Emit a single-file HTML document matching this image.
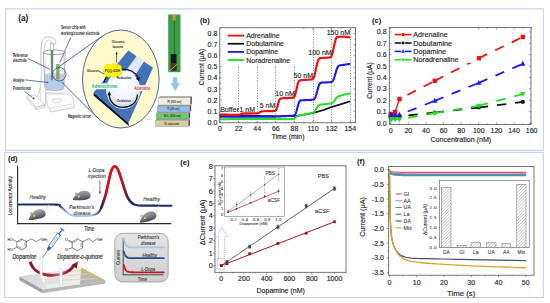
<!DOCTYPE html>
<html><head><meta charset="utf-8"><style>
html,body{margin:0;padding:0;background:#fff;width:550px;height:303px;overflow:hidden}
svg{display:block}
text{font-family:"Liberation Sans", sans-serif}
</style></head><body>
<svg width="550" height="303" viewBox="0 0 550 303"><rect x="5.6" y="8.9" width="537.8" height="141.4" fill="#fff" stroke="#c6d2e8" stroke-width="1.1" />
<rect x="4.6" y="152.4" width="538.8" height="145.1" fill="#fff" stroke="#c6d2e8" stroke-width="1.1" />
<text x="18.3" y="20.9" font-size="8.2" text-anchor="start" font-weight="bold" font-style="normal" fill="#111" font-family='"Liberation Sans", sans-serif' >(a)</text>
<path d="M40.0,88.4 L40.5,105.2 C41,106.8 43.5,107 45.5,106.6 L45.5,89.5" fill="#fcfcfc" stroke="#b6b6b6" stroke-width="0.6" />
<path d="M46.3,94.0 L69.5,94.0 C72,94 74.2,101 73.7,104.0 L49.4,108.3 C47.4,108.6 45.6,97 46.3,94.0 Z" fill="#fcfcfc" stroke="#b6b6b6" stroke-width="0.6" />
<path d="M49.4,108.3 L50.5,112.0 L74.4,107.6 L73.7,104.0" fill="#f8f8f8" stroke="#b6b6b6" stroke-width="0.6" />
<ellipse cx="55.5" cy="91.2" rx="10.8" ry="2.0" fill="#fcfcfc" stroke="#c8c8c8" stroke-width="0.6"/>
<path d="M52.6,99.4 L60.2,98.6 C61.2,98.6 61.6,101.6 60.8,102.0 L53.4,102.8 C52.4,102.8 52.0,99.6 52.6,99.4 Z" fill="none" stroke="#bdbdbd" stroke-width="0.5" />
<path d="M44.6,73.9 L63.9,73.9 L63.5,87.6 C63.3,90.4 45.6,90.4 45.3,87.6 Z" fill="#b3cfec" stroke="none" stroke-width="1" />
<ellipse cx="54.25" cy="74.1" rx="9.6" ry="1.2" fill="#cadff3"/>
<path d="M43.2,52.2 L45.0,87.8 C45.4,91.2 63.4,91.2 63.8,87.8 L65.2,52.2" fill="none" stroke="#8e8e8e" stroke-width="0.7" />
<path d="M45.0,54 L46.4,87" fill="none" stroke="#cacaca" stroke-width="0.5" />
<path d="M63.6,54 L62.4,87" fill="none" stroke="#cacaca" stroke-width="0.5" />
<ellipse cx="54.2" cy="52.3" rx="11.0" ry="2.3" fill="none" stroke="#8a8a8a" stroke-width="0.8"/>
<path d="M41.3,70 C40.6,58 40.8,47 41.9,41.9 C43.2,37.6 46,36.9 47.9,37.0 C51.5,37.2 55.2,38.2 55.7,40.8 C56.0,42.6 55.4,44.2 53.8,45.6" fill="none" stroke="#a8a8a8" stroke-width="0.7" />
<path d="M44.3,54.5 C44.0,49 44.5,45 45.5,43.1 C46.4,41.2 47.8,40.1 49.1,40.1 C50.4,40.1 51.2,41.2 51.5,43.1" fill="none" stroke="#b4b4b4" stroke-width="0.6" />
<path d="M41.3,70 C41.4,84 40.5,92 36.5,97" fill="none" stroke="#b0b0b0" stroke-width="0.6" />
<rect x="50.3" y="43.1" width="3.5" height="7.1" fill="#f6f6f6" stroke="#999999" stroke-width="0.5" />
<path d="M50.7,50.2 L53.3,50.2 L53.0,79.0 L52.0,81.0 L51.0,79.0 Z" fill="#5f8070" stroke="none" stroke-width="1" />
<line x1="52.00" y1="51.00" x2="52.00" y2="78.50" stroke="#86a596" stroke-width="0.5" />
<rect x="56.2" y="64.0" width="3.3" height="15.6" fill="#6eb64e" stroke="none" stroke-width="1" />
<rect x="56.9" y="73.9" width="1.9" height="4.9" fill="#e07a4e" stroke="none" stroke-width="1" />
<polygon points="27.10,96.90 36.00,107.20 36.00,109.60 27.10,99.40" fill="#f4f4f4" stroke="#b4b4b4" stroke-width="0.5" />
<polygon points="36.00,107.20 44.50,104.80 44.50,107.20 36.00,109.60" fill="#efefef" stroke="#b4b4b4" stroke-width="0.5" />
<path d="M27.1,96.9 Q27.2,95.6 28.6,95.4 L34.3,95.1 Q35.2,95.1 35.8,95.7 L44.5,104.8 L36.0,107.2 Z" fill="#fcfcfc" stroke="#b0b0b0" stroke-width="0.55" stroke-linejoin="round"/>
<circle cx="33.5" cy="98.4" r="0.9" fill="#2f3d7a"/>
<circle cx="59.3" cy="74.3" r="6.7" fill="none" stroke="#2f3d8c" stroke-width="0.8"/>
<line x1="58.90" y1="66.90" x2="102.20" y2="36.10" stroke="#2f3d8c" stroke-width="0.8" />
<line x1="61.60" y1="82.00" x2="97.60" y2="118.00" stroke="#2f3d8c" stroke-width="0.8" />
<line x1="28.20" y1="58.60" x2="50.30" y2="69.50" stroke="#3c4c8c" stroke-width="0.75" />
<line x1="24.80" y1="79.90" x2="47.60" y2="82.40" stroke="#3c4c8c" stroke-width="0.75" />
<circle cx="47.6" cy="82.4" r="0.7" fill="#2f3d8c"/>
<line x1="24.60" y1="91.40" x2="32.50" y2="97.70" stroke="#3c4c8c" stroke-width="0.75" />
<line x1="70.80" y1="37.30" x2="59.80" y2="62.60" stroke="#3c4c8c" stroke-width="0.75" />
<text x="61.0" y="29.1" font-size="5.0" text-anchor="start" font-weight="bold" font-style="normal" fill="#262626" font-family='"Liberation Sans", sans-serif' transform="translate(61.0 29.1) scale(0.62 1) translate(-61.0 -29.1)" >Sensor chip with</text>
<text x="61.0" y="34.6" font-size="5.0" text-anchor="start" font-weight="bold" font-style="normal" fill="#262626" font-family='"Liberation Sans", sans-serif' transform="translate(61.0 34.6) scale(0.62 1) translate(-61.0 -34.6)" >working/counter electrode</text>
<text x="12.9" y="57.2" font-size="5.0" text-anchor="start" font-weight="bold" font-style="normal" fill="#262626" font-family='"Liberation Sans", sans-serif' transform="translate(12.9 57.2) scale(0.62 1) translate(-12.9 -57.2)" >Reference</text>
<text x="12.9" y="61.8" font-size="5.0" text-anchor="start" font-weight="bold" font-style="normal" fill="#262626" font-family='"Liberation Sans", sans-serif' transform="translate(12.9 61.8) scale(0.62 1) translate(-12.9 -61.8)" >electrode</text>
<text x="12.9" y="82.2" font-size="5.0" text-anchor="start" font-weight="bold" font-style="normal" fill="#262626" font-family='"Liberation Sans", sans-serif' transform="translate(12.9 82.2) scale(0.62 1) translate(-12.9 -82.2)" >Analyte</text>
<text x="12.9" y="90.1" font-size="5.0" text-anchor="start" font-weight="bold" font-style="normal" fill="#262626" font-family='"Liberation Sans", sans-serif' transform="translate(12.9 90.1) scale(0.62 1) translate(-12.9 -90.1)" >Potentiostat</text>
<text x="67.9" y="118.2" font-size="5.0" text-anchor="start" font-weight="bold" font-style="normal" fill="#262626" font-family='"Liberation Sans", sans-serif' transform="translate(67.9 118.2) scale(0.62 1) translate(-67.9 -118.2)" >Magnetic stirrer</text>
<ellipse cx="120.8" cy="79.0" rx="38.3" ry="49.0" fill="#fcf9cd" stroke="#2f3d8c" stroke-width="0.8"/>
<clipPath id="ec"><ellipse cx="120.8" cy="79.0" rx="37.8" ry="48.5"/></clipPath>
<g clip-path="url(#ec)">
<polygon points="93.60,92.60 128.30,122.60 128.90,125.90 93.60,95.60" fill="#0b1428" stroke="none" stroke-width="1" />
<polygon points="128.30,50.50 152.90,67.80 128.50,122.80 93.60,92.60" fill="#4272b8" stroke="none" stroke-width="1" />
<polygon points="136.90,55.80 144.40,61.10 134.00,77.00 124.50,72.50" fill="#e2eaf6" stroke="none" stroke-width="1" />
<radialGradient id="ig" cx="0.5" cy="0.35" r="0.6"><stop offset="0" stop-color="#ffffff"/><stop offset="0.7" stop-color="#eef3fa"/><stop offset="1" stop-color="#c9d9ee"/></radialGradient>
<ellipse cx="123.2" cy="90.0" rx="17.2" ry="19.2" fill="url(#ig)"/>
</g>
<path d="M104.2,82.0 C106,74 113,69.5 121,69.2 C129,69 135.5,72.5 138.2,78.0" fill="none" stroke="#111" stroke-width="1.3" fill="none"/>
<polygon points="135.80,78.60 140.00,77.00 139.00,81.30" fill="#111" stroke="none" stroke-width="1" />
<path d="M137.4,94.5 C137,103 131,107.3 123,107.3 C115,107.3 109.5,102 109.2,94.5" fill="none" stroke="#111" stroke-width="1.3" fill="none"/>
<polygon points="107.40,95.20 109.30,91.20 111.20,95.20" fill="#111" stroke="none" stroke-width="1" />
<g transform="translate(112.5 70.2) scale(1.06 1.35) translate(-116 -68)"><path d="M108.5,66.5 C108,63.5 112,63.2 113.5,64.2 C115,62.6 119,62.6 120,64 C122.5,63.2 125.2,65 124.5,67.4 C126,69.2 124.5,72.2 121.5,71.8 C120,73.6 115.8,73.8 114.5,72.4 C112,73.8 108.2,72.6 108.6,70.2 C106.6,69.6 106.8,67 108.5,66.5 Z" fill="#fff200" stroke="#e8d800" stroke-width="0.3"/></g>
<text x="112.5" y="71.6" font-size="4.0" text-anchor="middle" font-weight="bold" font-style="normal" fill="#333" font-family='"Liberation Sans", sans-serif' transform="translate(112.5 71.6) scale(0.8 1) translate(-112.5 -71.6)" >PQQ-GDH</text>
<path d="M98.8,71.0 C100.5,72.6 102,73.2 104.2,73.4" fill="none" stroke="#222" stroke-width="0.7" fill="none"/>
<line x1="116.60" y1="62.50" x2="116.60" y2="53.60" stroke="#222" stroke-width="0.7" />
<polygon points="115.50,54.20 117.70,54.20 116.60,51.60" fill="#222" stroke="none" stroke-width="1" />
<text x="118.6" y="43.0" font-size="4.4" text-anchor="middle" font-weight="bold" font-style="normal" fill="#262626" font-family='"Liberation Sans", sans-serif' transform="translate(118.6 43.0) scale(0.7 1) translate(-118.6 -43.0)" >Glucono-</text>
<text x="117.9" y="48.1" font-size="4.4" text-anchor="middle" font-weight="bold" font-style="normal" fill="#262626" font-family='"Liberation Sans", sans-serif' transform="translate(117.9 48.1) scale(0.7 1) translate(-117.9 -48.1)" >lactone</text>
<text x="86.8" y="72.3" font-size="4.4" text-anchor="start" font-weight="bold" font-style="normal" fill="#262626" font-family='"Liberation Sans", sans-serif' transform="translate(86.8 72.3) scale(0.7 1) translate(-86.8 -72.3)" >Glucose</text>
<text x="124.0" y="79.4" font-size="4.4" text-anchor="middle" font-weight="bold" font-style="normal" fill="#262626" font-family='"Liberation Sans", sans-serif' transform="translate(124.0 79.4) scale(0.7 1) translate(-124.0 -79.4)" >Reduction</text>
<text x="123.7" y="102.3" font-size="4.4" text-anchor="middle" font-weight="bold" font-style="normal" fill="#262626" font-family='"Liberation Sans", sans-serif' transform="translate(123.7 102.3) scale(0.7 1) translate(-123.7 -102.3)" >Oxidation</text>
<rect x="89.6" y="83.4" width="29.0" height="5.8" fill="#ffffff" stroke="none" stroke-width="1" />
<text x="104.6" y="88.2" font-size="5.0" text-anchor="middle" font-weight="bold" font-style="normal" fill="#17a86a" font-family='"Liberation Sans", sans-serif' transform="translate(104.6 88.2) scale(0.72 1) translate(-104.6 -88.2)" >Adrenochrome</text>
<rect x="133.2" y="85.2" width="18.3" height="6.0" fill="#ffffff" stroke="none" stroke-width="1" />
<text x="142.3" y="89.8" font-size="4.8" text-anchor="middle" font-weight="bold" font-style="normal" fill="#e02424" font-family='"Liberation Sans", sans-serif' transform="translate(142.3 89.8) scale(0.65 1) translate(-142.3 -89.8)" >Adrenaline</text>
<rect x="168.2" y="14.5" width="12.3" height="57.7" fill="#3a9f44" stroke="none" stroke-width="1" />
<polygon points="172.40,14.50 175.80,14.50 175.40,20.40 172.80,20.40" fill="#e0903e" stroke="none" stroke-width="1" />
<line x1="174.40" y1="20.30" x2="174.40" y2="54.20" stroke="#1c3420" stroke-width="0.55" />
<rect x="170.7" y="54.1" width="5.8" height="16.5" fill="#18181c" stroke="none" stroke-width="1" />
<rect x="171.0" y="63.0" width="5.2" height="6.8" fill="#5a3024" stroke="none" stroke-width="1" />
<line x1="169.20" y1="71.20" x2="177.30" y2="64.00" stroke="#e8f0e8" stroke-width="0.6" />
<line x1="179.00" y1="55.50" x2="179.00" y2="56.50" stroke="#bfe0c0" stroke-width="0.5" />
<line x1="179.00" y1="57.50" x2="179.00" y2="58.50" stroke="#bfe0c0" stroke-width="0.5" />
<line x1="179.00" y1="59.50" x2="179.00" y2="60.50" stroke="#bfe0c0" stroke-width="0.5" />
<line x1="179.00" y1="61.50" x2="179.00" y2="62.50" stroke="#bfe0c0" stroke-width="0.5" />
<polygon points="172.90,77.20 177.30,77.20 177.30,83.00 179.80,83.00 175.20,91.20 170.70,83.00 172.90,83.00" fill="#8ecbea" stroke="none" stroke-width="1" />
<polygon points="159.80,96.20 191.80,96.20 190.20,97.80 158.60,97.80" fill="#9a9a9a" stroke="none" stroke-width="1" />
<polygon points="190.20,97.80 191.80,96.20 191.80,103.80 190.20,105.20" fill="#4a4a4a" stroke="none" stroke-width="1" />
<rect x="158.6" y="97.8" width="31.599999999999994" height="7.400000000000006" fill="#efeedd" stroke="#777" stroke-width="0.3" />
<text x="174.39999999999998" y="102.6" font-size="2.9" text-anchor="middle" font-weight="bold" font-style="normal" fill="#333" font-family='"Liberation Sans", sans-serif' transform="translate(174.39999999999998 102.6) scale(0.9 1) translate(-174.39999999999998 -102.6)" >Pt (200 nm)</text>
<polygon points="158.50,104.80 191.20,104.80 189.60,106.40 157.30,106.40" fill="#9a9a9a" stroke="none" stroke-width="1" />
<polygon points="189.60,106.40 191.20,104.80 191.20,110.50 189.60,111.90" fill="#4a4a4a" stroke="none" stroke-width="1" />
<rect x="157.3" y="106.4" width="32.29999999999998" height="5.5" fill="#8fc0f0" stroke="#777" stroke-width="0.3" />
<text x="173.45" y="110.25" font-size="2.9" text-anchor="middle" font-weight="bold" font-style="normal" fill="#333" font-family='"Liberation Sans", sans-serif' transform="translate(173.45 110.25) scale(0.9 1) translate(-173.45 -110.25)" >Ti (20 nm)</text>
<polygon points="157.50,111.90 190.10,111.90 188.50,113.50 156.30,113.50" fill="#9a9a9a" stroke="none" stroke-width="1" />
<polygon points="188.50,113.50 190.10,111.90 190.10,117.50 188.50,118.90" fill="#4a4a4a" stroke="none" stroke-width="1" />
<rect x="156.3" y="113.5" width="32.19999999999999" height="5.400000000000006" fill="#5fd15f" stroke="#777" stroke-width="0.3" />
<text x="172.4" y="117.3" font-size="2.9" text-anchor="middle" font-weight="bold" font-style="normal" fill="#333" font-family='"Liberation Sans", sans-serif' transform="translate(172.4 117.3) scale(0.9 1) translate(-172.4 -117.3)" >SiO₂ (500 nm)</text>
<polygon points="156.50,118.80 189.90,118.80 188.30,120.40 155.30,120.40" fill="#9a9a9a" stroke="none" stroke-width="1" />
<polygon points="188.30,120.40 189.90,118.80 189.90,125.40 188.30,126.80" fill="#4a4a4a" stroke="none" stroke-width="1" />
<rect x="155.3" y="120.4" width="33.0" height="6.3999999999999915" fill="#d6cfa2" stroke="#777" stroke-width="0.3" />
<text x="171.8" y="124.69999999999999" font-size="2.9" text-anchor="middle" font-weight="bold" font-style="normal" fill="#333" font-family='"Liberation Sans", sans-serif' transform="translate(171.8 124.69999999999999) scale(0.9 1) translate(-171.8 -124.69999999999999)" >Si substrate</text>
<text x="200.0" y="22.75" font-size="7.6" text-anchor="start" font-weight="bold" font-style="normal" fill="#111" font-family='"Liberation Sans", sans-serif' >(b)</text>
<line x1="238.50" y1="67.00" x2="238.50" y2="122.80" stroke="#666" stroke-width="0.8" stroke-dasharray="1 1.6"/>
<line x1="257.50" y1="67.00" x2="257.50" y2="122.80" stroke="#666" stroke-width="0.8" stroke-dasharray="1 1.6"/>
<line x1="275.50" y1="67.00" x2="275.50" y2="122.80" stroke="#666" stroke-width="0.8" stroke-dasharray="1 1.6"/>
<line x1="294.50" y1="67.00" x2="294.50" y2="122.80" stroke="#666" stroke-width="0.8" stroke-dasharray="1 1.6"/>
<line x1="313.50" y1="28.70" x2="313.50" y2="122.80" stroke="#666" stroke-width="0.8" stroke-dasharray="1 1.6"/>
<line x1="331.50" y1="28.70" x2="331.50" y2="122.80" stroke="#666" stroke-width="0.8" stroke-dasharray="1 1.6"/>
<line x1="350.50" y1="28.70" x2="350.50" y2="122.80" stroke="#666" stroke-width="0.8" stroke-dasharray="1 1.6"/>
<line x1="219.80" y1="122.30" x2="221.80" y2="122.30" stroke="#555" stroke-width="0.6" />
<line x1="355.50" y1="122.30" x2="353.50" y2="122.30" stroke="#555" stroke-width="0.6" />
<line x1="219.80" y1="116.75" x2="221.00" y2="116.75" stroke="#555" stroke-width="0.6" />
<line x1="355.50" y1="116.75" x2="354.30" y2="116.75" stroke="#555" stroke-width="0.6" />
<line x1="219.80" y1="111.21" x2="221.80" y2="111.21" stroke="#555" stroke-width="0.6" />
<line x1="355.50" y1="111.21" x2="353.50" y2="111.21" stroke="#555" stroke-width="0.6" />
<line x1="219.80" y1="105.66" x2="221.00" y2="105.66" stroke="#555" stroke-width="0.6" />
<line x1="355.50" y1="105.66" x2="354.30" y2="105.66" stroke="#555" stroke-width="0.6" />
<line x1="219.80" y1="100.12" x2="221.80" y2="100.12" stroke="#555" stroke-width="0.6" />
<line x1="355.50" y1="100.12" x2="353.50" y2="100.12" stroke="#555" stroke-width="0.6" />
<line x1="219.80" y1="94.57" x2="221.00" y2="94.57" stroke="#555" stroke-width="0.6" />
<line x1="355.50" y1="94.57" x2="354.30" y2="94.57" stroke="#555" stroke-width="0.6" />
<line x1="219.80" y1="89.03" x2="221.80" y2="89.03" stroke="#555" stroke-width="0.6" />
<line x1="355.50" y1="89.03" x2="353.50" y2="89.03" stroke="#555" stroke-width="0.6" />
<line x1="219.80" y1="83.48" x2="221.00" y2="83.48" stroke="#555" stroke-width="0.6" />
<line x1="355.50" y1="83.48" x2="354.30" y2="83.48" stroke="#555" stroke-width="0.6" />
<line x1="219.80" y1="77.94" x2="221.80" y2="77.94" stroke="#555" stroke-width="0.6" />
<line x1="355.50" y1="77.94" x2="353.50" y2="77.94" stroke="#555" stroke-width="0.6" />
<line x1="219.80" y1="72.39" x2="221.00" y2="72.39" stroke="#555" stroke-width="0.6" />
<line x1="355.50" y1="72.39" x2="354.30" y2="72.39" stroke="#555" stroke-width="0.6" />
<line x1="219.80" y1="66.85" x2="221.80" y2="66.85" stroke="#555" stroke-width="0.6" />
<line x1="355.50" y1="66.85" x2="353.50" y2="66.85" stroke="#555" stroke-width="0.6" />
<line x1="219.80" y1="61.30" x2="221.00" y2="61.30" stroke="#555" stroke-width="0.6" />
<line x1="355.50" y1="61.30" x2="354.30" y2="61.30" stroke="#555" stroke-width="0.6" />
<line x1="219.80" y1="55.76" x2="221.80" y2="55.76" stroke="#555" stroke-width="0.6" />
<line x1="355.50" y1="55.76" x2="353.50" y2="55.76" stroke="#555" stroke-width="0.6" />
<line x1="219.80" y1="50.21" x2="221.00" y2="50.21" stroke="#555" stroke-width="0.6" />
<line x1="355.50" y1="50.21" x2="354.30" y2="50.21" stroke="#555" stroke-width="0.6" />
<line x1="219.80" y1="44.67" x2="221.80" y2="44.67" stroke="#555" stroke-width="0.6" />
<line x1="355.50" y1="44.67" x2="353.50" y2="44.67" stroke="#555" stroke-width="0.6" />
<line x1="219.80" y1="39.12" x2="221.00" y2="39.12" stroke="#555" stroke-width="0.6" />
<line x1="355.50" y1="39.12" x2="354.30" y2="39.12" stroke="#555" stroke-width="0.6" />
<line x1="219.80" y1="33.58" x2="221.80" y2="33.58" stroke="#555" stroke-width="0.6" />
<line x1="355.50" y1="33.58" x2="353.50" y2="33.58" stroke="#555" stroke-width="0.6" />
<line x1="219.80" y1="28.03" x2="221.00" y2="28.03" stroke="#555" stroke-width="0.6" />
<line x1="355.50" y1="28.03" x2="354.30" y2="28.03" stroke="#555" stroke-width="0.6" />
<line x1="220.00" y1="122.80" x2="220.00" y2="120.80" stroke="#555" stroke-width="0.6" />
<line x1="220.00" y1="27.70" x2="220.00" y2="29.70" stroke="#555" stroke-width="0.6" />
<line x1="229.31" y1="122.80" x2="229.31" y2="121.60" stroke="#555" stroke-width="0.6" />
<line x1="229.31" y1="27.70" x2="229.31" y2="28.90" stroke="#555" stroke-width="0.6" />
<line x1="238.61" y1="122.80" x2="238.61" y2="120.80" stroke="#555" stroke-width="0.6" />
<line x1="238.61" y1="27.70" x2="238.61" y2="29.70" stroke="#555" stroke-width="0.6" />
<line x1="247.92" y1="122.80" x2="247.92" y2="121.60" stroke="#555" stroke-width="0.6" />
<line x1="247.92" y1="27.70" x2="247.92" y2="28.90" stroke="#555" stroke-width="0.6" />
<line x1="257.22" y1="122.80" x2="257.22" y2="120.80" stroke="#555" stroke-width="0.6" />
<line x1="257.22" y1="27.70" x2="257.22" y2="29.70" stroke="#555" stroke-width="0.6" />
<line x1="266.53" y1="122.80" x2="266.53" y2="121.60" stroke="#555" stroke-width="0.6" />
<line x1="266.53" y1="27.70" x2="266.53" y2="28.90" stroke="#555" stroke-width="0.6" />
<line x1="275.84" y1="122.80" x2="275.84" y2="120.80" stroke="#555" stroke-width="0.6" />
<line x1="275.84" y1="27.70" x2="275.84" y2="29.70" stroke="#555" stroke-width="0.6" />
<line x1="285.14" y1="122.80" x2="285.14" y2="121.60" stroke="#555" stroke-width="0.6" />
<line x1="285.14" y1="27.70" x2="285.14" y2="28.90" stroke="#555" stroke-width="0.6" />
<line x1="294.45" y1="122.80" x2="294.45" y2="120.80" stroke="#555" stroke-width="0.6" />
<line x1="294.45" y1="27.70" x2="294.45" y2="29.70" stroke="#555" stroke-width="0.6" />
<line x1="303.75" y1="122.80" x2="303.75" y2="121.60" stroke="#555" stroke-width="0.6" />
<line x1="303.75" y1="27.70" x2="303.75" y2="28.90" stroke="#555" stroke-width="0.6" />
<line x1="313.06" y1="122.80" x2="313.06" y2="120.80" stroke="#555" stroke-width="0.6" />
<line x1="313.06" y1="27.70" x2="313.06" y2="29.70" stroke="#555" stroke-width="0.6" />
<line x1="322.37" y1="122.80" x2="322.37" y2="121.60" stroke="#555" stroke-width="0.6" />
<line x1="322.37" y1="27.70" x2="322.37" y2="28.90" stroke="#555" stroke-width="0.6" />
<line x1="331.67" y1="122.80" x2="331.67" y2="120.80" stroke="#555" stroke-width="0.6" />
<line x1="331.67" y1="27.70" x2="331.67" y2="29.70" stroke="#555" stroke-width="0.6" />
<line x1="340.98" y1="122.80" x2="340.98" y2="121.60" stroke="#555" stroke-width="0.6" />
<line x1="340.98" y1="27.70" x2="340.98" y2="28.90" stroke="#555" stroke-width="0.6" />
<line x1="350.28" y1="122.80" x2="350.28" y2="120.80" stroke="#555" stroke-width="0.6" />
<line x1="350.28" y1="27.70" x2="350.28" y2="29.70" stroke="#555" stroke-width="0.6" />
<text x="217.3" y="124.8" font-size="7" text-anchor="end" font-weight="normal" font-style="normal" fill="#222" font-family='"Liberation Sans", sans-serif'  stroke="#222" stroke-width="0.14">0.0</text>
<text x="217.3" y="113.71" font-size="7" text-anchor="end" font-weight="normal" font-style="normal" fill="#222" font-family='"Liberation Sans", sans-serif'  stroke="#222" stroke-width="0.14">0.1</text>
<text x="217.3" y="102.61999999999999" font-size="7" text-anchor="end" font-weight="normal" font-style="normal" fill="#222" font-family='"Liberation Sans", sans-serif'  stroke="#222" stroke-width="0.14">0.2</text>
<text x="217.3" y="91.53" font-size="7" text-anchor="end" font-weight="normal" font-style="normal" fill="#222" font-family='"Liberation Sans", sans-serif'  stroke="#222" stroke-width="0.14">0.3</text>
<text x="217.3" y="80.44" font-size="7" text-anchor="end" font-weight="normal" font-style="normal" fill="#222" font-family='"Liberation Sans", sans-serif'  stroke="#222" stroke-width="0.14">0.4</text>
<text x="217.3" y="69.35" font-size="7" text-anchor="end" font-weight="normal" font-style="normal" fill="#222" font-family='"Liberation Sans", sans-serif'  stroke="#222" stroke-width="0.14">0.5</text>
<text x="217.3" y="58.25999999999999" font-size="7" text-anchor="end" font-weight="normal" font-style="normal" fill="#222" font-family='"Liberation Sans", sans-serif'  stroke="#222" stroke-width="0.14">0.6</text>
<text x="217.3" y="47.16999999999999" font-size="7" text-anchor="end" font-weight="normal" font-style="normal" fill="#222" font-family='"Liberation Sans", sans-serif'  stroke="#222" stroke-width="0.14">0.7</text>
<text x="217.3" y="36.079999999999984" font-size="7" text-anchor="end" font-weight="normal" font-style="normal" fill="#222" font-family='"Liberation Sans", sans-serif'  stroke="#222" stroke-width="0.14">0.8</text>
<text x="220.0" y="131.0" font-size="7" text-anchor="middle" font-weight="normal" font-style="normal" fill="#222" font-family='"Liberation Sans", sans-serif'  stroke="#222" stroke-width="0.14">0</text>
<text x="238.612" y="131.0" font-size="7" text-anchor="middle" font-weight="normal" font-style="normal" fill="#222" font-family='"Liberation Sans", sans-serif'  stroke="#222" stroke-width="0.14">22</text>
<text x="257.224" y="131.0" font-size="7" text-anchor="middle" font-weight="normal" font-style="normal" fill="#222" font-family='"Liberation Sans", sans-serif'  stroke="#222" stroke-width="0.14">44</text>
<text x="275.836" y="131.0" font-size="7" text-anchor="middle" font-weight="normal" font-style="normal" fill="#222" font-family='"Liberation Sans", sans-serif'  stroke="#222" stroke-width="0.14">66</text>
<text x="294.448" y="131.0" font-size="7" text-anchor="middle" font-weight="normal" font-style="normal" fill="#222" font-family='"Liberation Sans", sans-serif'  stroke="#222" stroke-width="0.14">88</text>
<text x="313.06" y="131.0" font-size="7" text-anchor="middle" font-weight="normal" font-style="normal" fill="#222" font-family='"Liberation Sans", sans-serif'  stroke="#222" stroke-width="0.14">110</text>
<text x="331.672" y="131.0" font-size="7" text-anchor="middle" font-weight="normal" font-style="normal" fill="#222" font-family='"Liberation Sans", sans-serif'  stroke="#222" stroke-width="0.14">132</text>
<text x="350.284" y="131.0" font-size="7" text-anchor="middle" font-weight="normal" font-style="normal" fill="#222" font-family='"Liberation Sans", sans-serif'  stroke="#222" stroke-width="0.14">154</text>
<text x="288" y="139" font-size="7" text-anchor="middle" font-weight="normal" font-style="normal" fill="#222" font-family='"Liberation Sans", sans-serif'  stroke="#222" stroke-width="0.14">Time (min)</text>
<text x="203.5" y="67" font-size="6.6" text-anchor="middle" font-weight="normal" font-style="normal" fill="#222" font-family='"Liberation Sans", sans-serif' transform="rotate(-90 203.5 67)"  stroke="#222" stroke-width="0.14">Current (μA)</text>
<polyline points="220.00,114.72 220.32,114.72 220.65,114.73 220.97,114.74 221.30,114.74 221.62,114.75 221.95,114.76 222.27,114.77 222.60,114.78 222.92,114.79 223.24,114.80 223.57,114.81 223.89,114.82 224.22,114.83 224.54,114.84 224.87,114.85 225.19,114.86 225.51,114.87 225.84,114.88 226.16,114.89 226.49,114.90 226.81,114.91 227.14,114.92 227.46,114.93 227.79,114.94 228.11,114.94 228.43,114.95 228.76,114.96 229.08,114.97 229.41,114.98 229.73,114.99 230.06,115.00 230.38,115.01 230.71,115.02 231.03,115.03 231.35,115.04 231.68,115.05 232.00,115.06 232.33,115.07 232.65,115.08 232.98,115.09 233.30,115.10 233.63,115.11 233.95,115.12 234.27,115.13 234.60,115.14 234.92,115.15 235.25,115.16 235.57,115.17 235.90,115.18 236.22,115.19 236.54,115.20 236.87,115.21 237.19,115.22 237.52,115.23 237.84,115.24 238.17,115.25 238.49,115.26 238.82,115.27 239.14,115.28 239.46,115.29 239.79,115.30 240.11,115.31 240.44,115.32 240.76,115.33 241.09,115.35 241.41,115.36 241.74,115.37 242.06,115.38 242.38,115.39 242.71,115.40 243.03,115.42 243.36,115.43 243.68,115.44 244.01,115.45 244.33,115.46 244.65,115.47 244.98,115.49 245.30,115.50 245.63,115.51 245.95,115.52 246.28,115.53 246.60,115.54 246.93,115.56 247.25,115.57 247.57,115.58 247.90,115.59 248.22,115.60 248.55,115.61 248.87,115.62 249.20,115.64 249.52,115.65 249.85,115.66 250.17,115.67 250.49,115.68 250.82,115.69 251.14,115.71 251.47,115.72 251.79,115.73 252.12,115.74 252.44,115.75 252.77,115.76 253.09,115.78 253.41,115.79 253.74,115.80 254.06,115.81 254.39,115.82 254.71,115.83 255.04,115.84 255.36,115.86 255.68,115.87 256.01,115.88 256.33,115.89 256.66,115.90 256.98,115.91 257.31,115.92 257.63,115.93 257.96,115.93 258.28,115.94 258.60,115.95 258.93,115.95 259.25,115.96 259.58,115.97 259.90,115.97 260.23,115.98 260.55,115.98 260.88,115.99 261.20,115.99 261.52,116.00 261.85,116.01 262.17,116.01 262.50,116.02 262.82,116.02 263.15,116.03 263.47,116.03 263.79,116.04 264.12,116.05 264.44,116.05 264.77,116.06 265.09,116.06 265.42,116.07 265.74,116.08 266.07,116.08 266.39,116.09 266.71,116.09 267.04,116.10 267.36,116.10 267.69,116.11 268.01,116.12 268.34,116.12 268.66,116.13 268.99,116.13 269.31,116.14 269.63,116.15 269.96,116.15 270.28,116.16 270.61,116.16 270.93,116.17 271.26,116.17 271.58,116.18 271.90,116.19 272.23,116.19 272.55,116.20 272.88,116.20 273.20,116.21 273.53,116.21 273.85,116.22 274.18,116.23 274.50,116.23 274.82,116.24 275.15,116.24 275.47,116.24 275.80,116.25 276.12,116.25 276.45,116.25 276.77,116.25 277.10,116.25 277.42,116.25 277.74,116.24 278.07,116.24 278.39,116.24 278.72,116.24 279.04,116.24 279.37,116.23 279.69,116.23 280.02,116.23 280.34,116.23 280.66,116.23 280.99,116.23 281.31,116.22 281.64,116.22 281.96,116.22 282.29,116.22 282.61,116.22 282.93,116.21 283.26,116.21 283.58,116.21 283.91,116.21 284.23,116.21 284.56,116.20 284.88,116.20 285.21,116.20 285.53,116.20 285.85,116.20 286.18,116.19 286.50,116.19 286.83,116.19 287.15,116.19 287.48,116.19 287.80,116.18 288.13,116.18 288.45,116.18 288.77,116.18 289.10,116.18 289.42,116.17 289.75,116.17 290.07,116.17 290.40,116.17 290.72,116.17 291.04,116.17 291.37,116.16 291.69,116.16 292.02,116.16 292.34,116.16 292.67,116.15 292.99,116.15 293.32,116.14 293.64,116.13 293.96,116.12 294.29,116.09 294.61,116.07 294.94,116.04 295.26,116.00 295.59,115.96 295.91,115.92 296.24,115.87 296.56,115.82 296.88,115.77 297.21,115.72 297.53,115.67 297.86,115.62 298.18,115.57 298.51,115.52 298.83,115.47 299.16,115.43 299.48,115.38 299.80,115.33 300.13,115.28 300.45,115.23 300.78,115.18 301.10,115.13 301.43,115.08 301.75,115.03 302.07,114.98 302.40,114.93 302.72,114.88 303.05,114.83 303.37,114.78 303.70,114.73 304.02,114.67 304.35,114.62 304.67,114.56 304.99,114.50 305.32,114.44 305.64,114.38 305.97,114.32 306.29,114.26 306.62,114.20 306.94,114.13 307.27,114.07 307.59,114.00 307.91,113.94 308.24,113.88 308.56,113.81 308.89,113.75 309.21,113.69 309.54,113.62 309.86,113.56 310.18,113.49 310.51,113.43 310.83,113.37 311.16,113.30 311.48,113.24 311.81,113.17 312.13,113.10 312.46,113.03 312.78,112.96 313.10,112.89 313.43,112.81 313.75,112.73 314.08,112.64 314.40,112.56 314.73,112.47 315.05,112.38 315.38,112.29 315.70,112.21 316.02,112.12 316.35,112.03 316.67,111.94 317.00,111.85 317.32,111.76 317.65,111.67 317.97,111.58 318.30,111.49 318.62,111.41 318.94,111.32 319.27,111.23 319.59,111.14 319.92,111.05 320.24,110.96 320.57,110.87 320.89,110.78 321.21,110.69 321.54,110.59 321.86,110.50 322.19,110.40 322.51,110.29 322.84,110.19 323.16,110.08 323.49,109.96 323.81,109.85 324.13,109.73 324.46,109.62 324.78,109.50 325.11,109.38 325.43,109.26 325.76,109.15 326.08,109.03 326.41,108.91 326.73,108.79 327.05,108.67 327.38,108.56 327.70,108.44 328.03,108.32 328.35,108.20 328.68,108.08 329.00,107.97 329.32,107.85 329.65,107.73 329.97,107.61 330.30,107.50 330.62,107.38 330.95,107.27 331.27,107.16 331.60,107.05 331.92,106.94 332.24,106.84 332.57,106.74 332.89,106.64 333.22,106.54 333.54,106.44 333.87,106.34 334.19,106.25 334.52,106.15 334.84,106.05 335.16,105.96 335.49,105.86 335.81,105.76 336.14,105.67 336.46,105.57 336.79,105.47 337.11,105.38 337.43,105.28 337.76,105.18 338.08,105.09 338.41,104.99 338.73,104.89 339.06,104.80 339.38,104.70 339.71,104.60 340.03,104.50 340.35,104.40 340.68,104.31 341.00,104.21 341.33,104.10 341.65,104.00 341.98,103.90 342.30,103.80 342.63,103.69 342.95,103.59 343.27,103.48 343.60,103.38 343.92,103.28 344.25,103.17 344.57,103.07 344.90,102.96 345.22,102.86 345.55,102.75 345.87,102.65 346.19,102.55 346.52,102.44 346.84,102.34 347.17,102.23 347.49,102.13 347.82,102.02 348.14,101.92 348.46,101.82 348.79,101.72 349.11,101.63 349.44,101.54" fill="none" stroke="#111" stroke-width="1.7" stroke-linejoin="round" stroke-linecap="round" />
<polyline points="220.00,119.14 220.32,119.14 220.65,119.14 220.97,119.14 221.30,119.14 221.62,119.14 221.95,119.14 222.27,119.14 222.60,119.14 222.92,119.13 223.24,119.13 223.57,119.13 223.89,119.13 224.22,119.13 224.54,119.13 224.87,119.13 225.19,119.13 225.51,119.13 225.84,119.13 226.16,119.13 226.49,119.13 226.81,119.13 227.14,119.13 227.46,119.13 227.79,119.13 228.11,119.13 228.43,119.13 228.76,119.13 229.08,119.13 229.41,119.13 229.73,119.12 230.06,119.12 230.38,119.12 230.71,119.12 231.03,119.12 231.35,119.12 231.68,119.12 232.00,119.12 232.33,119.12 232.65,119.12 232.98,119.12 233.30,119.12 233.63,119.12 233.95,119.12 234.27,119.12 234.60,119.12 234.92,119.12 235.25,119.12 235.57,119.12 235.90,119.12 236.22,119.12 236.54,119.11 236.87,119.11 237.19,119.11 237.52,119.11 237.84,119.11 238.17,119.11 238.49,119.11 238.82,119.11 239.14,119.11 239.46,119.11 239.79,119.11 240.11,119.11 240.44,119.11 240.76,119.11 241.09,119.11 241.41,119.11 241.74,119.11 242.06,119.11 242.38,119.11 242.71,119.11 243.03,119.11 243.36,119.10 243.68,119.10 244.01,119.10 244.33,119.10 244.65,119.10 244.98,119.10 245.30,119.10 245.63,119.10 245.95,119.10 246.28,119.10 246.60,119.10 246.93,119.10 247.25,119.10 247.57,119.10 247.90,119.10 248.22,119.10 248.55,119.10 248.87,119.10 249.20,119.10 249.52,119.10 249.85,119.09 250.17,119.09 250.49,119.09 250.82,119.09 251.14,119.09 251.47,119.09 251.79,119.09 252.12,119.09 252.44,119.09 252.77,119.09 253.09,119.09 253.41,119.09 253.74,119.09 254.06,119.09 254.39,119.09 254.71,119.09 255.04,119.09 255.36,119.09 255.68,119.09 256.01,119.09 256.33,119.09 256.66,119.08 256.98,119.08 257.31,119.08 257.63,119.08 257.96,119.08 258.28,119.08 258.60,119.08 258.93,119.08 259.25,119.08 259.58,119.08 259.90,119.08 260.23,119.08 260.55,119.08 260.88,119.08 261.20,119.08 261.52,119.08 261.85,119.08 262.17,119.08 262.50,119.08 262.82,119.08 263.15,119.08 263.47,119.07 263.79,119.07 264.12,119.07 264.44,119.07 264.77,119.07 265.09,119.07 265.42,119.07 265.74,119.07 266.07,119.07 266.39,119.07 266.71,119.07 267.04,119.07 267.36,119.07 267.69,119.07 268.01,119.07 268.34,119.07 268.66,119.07 268.99,119.07 269.31,119.07 269.63,119.07 269.96,119.06 270.28,119.06 270.61,119.06 270.93,119.06 271.26,119.06 271.58,119.06 271.90,119.06 272.23,119.06 272.55,119.06 272.88,119.06 273.20,119.06 273.53,119.06 273.85,119.06 274.18,119.06 274.50,119.06 274.82,119.06 275.15,119.06 275.47,119.06 275.80,119.06 276.12,119.06 276.45,119.06 276.77,119.05 277.10,119.05 277.42,119.05 277.74,119.05 278.07,119.05 278.39,119.05 278.72,119.05 279.04,119.05 279.37,119.05 279.69,119.05 280.02,119.05 280.34,119.05 280.66,119.05 280.99,119.05 281.31,119.05 281.64,119.05 281.96,119.05 282.29,119.05 282.61,119.05 282.93,119.05 283.26,119.05 283.58,119.04 283.91,119.04 284.23,119.04 284.56,119.04 284.88,119.04 285.21,119.04 285.53,119.04 285.85,119.04 286.18,119.04 286.50,119.04 286.83,119.04 287.15,119.04 287.48,119.04 287.80,119.04 288.13,119.04 288.45,119.04 288.77,119.04 289.10,119.04 289.42,119.04 289.75,119.04 290.07,119.03 290.40,119.03 290.72,119.03 291.04,119.03 291.37,119.03 291.69,119.03 292.02,119.03 292.34,119.02 292.67,119.00 292.99,118.96 293.32,118.91 293.64,118.81 293.96,118.67 294.29,118.48 294.61,118.24 294.94,117.96 295.26,117.65 295.59,117.33 295.91,117.02 296.24,116.74 296.56,116.50 296.88,116.31 297.21,116.15 297.53,116.03 297.86,115.93 298.18,115.84 298.51,115.77 298.83,115.69 299.16,115.62 299.48,115.56 299.80,115.49 300.13,115.42 300.45,115.35 300.78,115.28 301.10,115.22 301.43,115.15 301.75,115.08 302.07,115.01 302.40,114.94 302.72,114.88 303.05,114.81 303.37,114.74 303.70,114.67 304.02,114.60 304.35,114.53 304.67,114.47 304.99,114.40 305.32,114.33 305.64,114.26 305.97,114.19 306.29,114.13 306.62,114.06 306.94,113.99 307.27,113.92 307.59,113.85 307.91,113.79 308.24,113.72 308.56,113.65 308.89,113.58 309.21,113.51 309.54,113.45 309.86,113.38 310.18,113.31 310.51,113.24 310.83,113.17 311.16,113.10 311.48,113.03 311.81,112.95 312.13,112.86 312.46,112.77 312.78,112.66 313.10,112.52 313.43,112.36 313.75,112.16 314.08,111.92 314.40,111.63 314.73,111.28 315.05,110.88 315.38,110.43 315.70,109.93 316.02,109.39 316.35,108.84 316.67,108.27 317.00,107.72 317.32,107.17 317.65,106.66 317.97,106.20 318.30,105.80 318.62,105.46 318.94,105.19 319.27,104.98 319.59,104.83 319.92,104.73 320.24,104.65 320.57,104.59 320.89,104.55 321.21,104.51 321.54,104.48 321.86,104.44 322.19,104.41 322.51,104.38 322.84,104.34 323.16,104.31 323.49,104.28 323.81,104.24 324.13,104.21 324.46,104.18 324.78,104.15 325.11,104.11 325.43,104.08 325.76,104.05 326.08,104.01 326.41,103.98 326.73,103.95 327.05,103.92 327.38,103.88 327.70,103.85 328.03,103.82 328.35,103.78 328.68,103.75 329.00,103.72 329.32,103.68 329.65,103.65 329.97,103.61 330.30,103.56 330.62,103.50 330.95,103.43 331.27,103.34 331.60,103.22 331.92,103.08 332.24,102.90 332.57,102.68 332.89,102.41 333.22,102.11 333.54,101.77 333.87,101.39 334.19,100.97 334.52,100.53 334.84,100.08 335.16,99.61 335.49,99.14 335.81,98.69 336.14,98.25 336.46,97.84 336.79,97.48 337.11,97.15 337.43,96.88 337.76,96.66 338.08,96.47 338.41,96.33 338.73,96.20 339.06,96.10 339.38,96.00 339.71,95.91 340.03,95.82 340.35,95.74 340.68,95.65 341.00,95.57 341.33,95.48 341.65,95.40 341.98,95.31 342.30,95.23 342.63,95.14 342.95,95.06 343.27,94.97 343.60,94.89 343.92,94.80 344.25,94.72 344.57,94.63 344.90,94.55 345.22,94.46 345.55,94.38 345.87,94.29 346.19,94.21 346.52,94.12 346.84,94.04 347.17,93.95 347.49,93.87 347.82,93.78 348.14,93.70 348.46,93.62 348.79,93.54 349.11,93.46 349.44,93.39" fill="none" stroke="#22dd22" stroke-width="2.0" stroke-linejoin="round" stroke-linecap="round" />
<polyline points="220.00,116.59 220.32,116.59 220.65,116.59 220.97,116.59 221.30,116.59 221.62,116.59 221.95,116.59 222.27,116.60 222.60,116.60 222.92,116.60 223.24,116.60 223.57,116.60 223.89,116.60 224.22,116.60 224.54,116.60 224.87,116.60 225.19,116.60 225.51,116.61 225.84,116.61 226.16,116.61 226.49,116.61 226.81,116.61 227.14,116.61 227.46,116.61 227.79,116.61 228.11,116.61 228.43,116.61 228.76,116.61 229.08,116.62 229.41,116.62 229.73,116.62 230.06,116.62 230.38,116.62 230.71,116.62 231.03,116.62 231.35,116.62 231.68,116.62 232.00,116.62 232.33,116.63 232.65,116.63 232.98,116.63 233.30,116.63 233.63,116.63 233.95,116.63 234.27,116.63 234.60,116.63 234.92,116.63 235.25,116.63 235.57,116.64 235.90,116.64 236.22,116.64 236.54,116.64 236.87,116.64 237.19,116.64 237.52,116.64 237.84,116.64 238.17,116.64 238.49,116.64 238.82,116.64 239.14,116.65 239.46,116.65 239.79,116.65 240.11,116.65 240.44,116.65 240.76,116.65 241.09,116.65 241.41,116.65 241.74,116.65 242.06,116.65 242.38,116.66 242.71,116.66 243.03,116.66 243.36,116.66 243.68,116.66 244.01,116.66 244.33,116.66 244.65,116.66 244.98,116.66 245.30,116.66 245.63,116.67 245.95,116.67 246.28,116.67 246.60,116.67 246.93,116.67 247.25,116.67 247.57,116.67 247.90,116.67 248.22,116.67 248.55,116.67 248.87,116.67 249.20,116.68 249.52,116.68 249.85,116.68 250.17,116.68 250.49,116.68 250.82,116.68 251.14,116.68 251.47,116.68 251.79,116.68 252.12,116.68 252.44,116.69 252.77,116.69 253.09,116.69 253.41,116.69 253.74,116.69 254.06,116.69 254.39,116.69 254.71,116.69 255.04,116.69 255.36,116.69 255.68,116.69 256.01,116.70 256.33,116.70 256.66,116.70 256.98,116.70 257.31,116.70 257.63,116.69 257.96,116.69 258.28,116.69 258.60,116.69 258.93,116.69 259.25,116.69 259.58,116.69 259.90,116.68 260.23,116.68 260.55,116.68 260.88,116.68 261.20,116.68 261.52,116.67 261.85,116.67 262.17,116.67 262.50,116.67 262.82,116.67 263.15,116.66 263.47,116.66 263.79,116.66 264.12,116.66 264.44,116.66 264.77,116.65 265.09,116.65 265.42,116.65 265.74,116.65 266.07,116.65 266.39,116.64 266.71,116.64 267.04,116.64 267.36,116.64 267.69,116.64 268.01,116.64 268.34,116.63 268.66,116.63 268.99,116.63 269.31,116.63 269.63,116.63 269.96,116.62 270.28,116.62 270.61,116.62 270.93,116.62 271.26,116.62 271.58,116.61 271.90,116.61 272.23,116.61 272.55,116.61 272.88,116.61 273.20,116.60 273.53,116.60 273.85,116.60 274.18,116.60 274.50,116.59 274.82,116.59 275.15,116.58 275.47,116.58 275.80,116.57 276.12,116.56 276.45,116.55 276.77,116.53 277.10,116.52 277.42,116.50 277.74,116.49 278.07,116.47 278.39,116.45 278.72,116.43 279.04,116.42 279.37,116.40 279.69,116.38 280.02,116.36 280.34,116.35 280.66,116.33 280.99,116.31 281.31,116.29 281.64,116.28 281.96,116.26 282.29,116.24 282.61,116.23 282.93,116.21 283.26,116.19 283.58,116.17 283.91,116.16 284.23,116.14 284.56,116.12 284.88,116.10 285.21,116.09 285.53,116.07 285.85,116.05 286.18,116.03 286.50,116.02 286.83,116.00 287.15,115.98 287.48,115.96 287.80,115.95 288.13,115.93 288.45,115.91 288.77,115.89 289.10,115.88 289.42,115.86 289.75,115.84 290.07,115.83 290.40,115.81 290.72,115.79 291.04,115.77 291.37,115.76 291.69,115.74 292.02,115.72 292.34,115.70 292.67,115.68 292.99,115.65 293.32,115.61 293.64,115.55 293.96,115.46 294.29,115.32 294.61,115.11 294.94,114.78 295.26,114.33 295.59,113.72 295.91,112.95 296.24,112.02 296.56,110.95 296.88,109.78 297.21,108.54 297.53,107.27 297.86,106.02 298.18,104.84 298.51,103.76 298.83,102.82 299.16,102.05 299.48,101.45 299.80,101.01 300.13,100.70 300.45,100.51 300.78,100.39 301.10,100.32 301.43,100.27 301.75,100.25 302.07,100.23 302.40,100.22 302.72,100.20 303.05,100.19 303.37,100.18 303.70,100.16 304.02,100.15 304.35,100.14 304.67,100.13 304.99,100.11 305.32,100.10 305.64,100.09 305.97,100.08 306.29,100.06 306.62,100.05 306.94,100.04 307.27,100.03 307.59,100.01 307.91,100.00 308.24,99.99 308.56,99.98 308.89,99.96 309.21,99.95 309.54,99.94 309.86,99.93 310.18,99.91 310.51,99.90 310.83,99.89 311.16,99.87 311.48,99.86 311.81,99.84 312.13,99.82 312.46,99.78 312.78,99.73 313.10,99.66 313.43,99.55 313.75,99.39 314.08,99.16 314.40,98.83 314.73,98.39 315.05,97.82 315.38,97.12 315.70,96.27 316.02,95.31 316.35,94.25 316.67,93.12 317.00,91.94 317.32,90.75 317.65,89.56 317.97,88.39 318.30,87.29 318.62,86.27 318.94,85.37 319.27,84.60 319.59,83.97 319.92,83.50 320.24,83.16 320.57,82.93 320.89,82.79 321.21,82.70 321.54,82.64 321.86,82.61 322.19,82.59 322.51,82.57 322.84,82.55 323.16,82.54 323.49,82.52 323.81,82.51 324.13,82.49 324.46,82.48 324.78,82.47 325.11,82.45 325.43,82.44 325.76,82.42 326.08,82.41 326.41,82.39 326.73,82.38 327.05,82.36 327.38,82.35 327.70,82.33 328.03,82.32 328.35,82.30 328.68,82.29 329.00,82.27 329.32,82.26 329.65,82.24 329.97,82.22 330.30,82.19 330.62,82.15 330.95,82.10 331.27,82.02 331.60,81.91 331.92,81.74 332.24,81.51 332.57,81.19 332.89,80.77 333.22,80.22 333.54,79.54 333.87,78.74 334.19,77.82 334.52,76.81 334.84,75.73 335.16,74.61 335.49,73.47 335.81,72.34 336.14,71.23 336.46,70.17 336.79,69.18 337.11,68.30 337.43,67.55 337.76,66.93 338.08,66.45 338.41,66.09 338.73,65.84 339.06,65.66 339.38,65.54 339.71,65.46 340.03,65.39 340.35,65.34 340.68,65.28 341.00,65.23 341.33,65.19 341.65,65.14 341.98,65.09 342.30,65.04 342.63,64.99 342.95,64.95 343.27,64.90 343.60,64.85 343.92,64.80 344.25,64.75 344.57,64.70 344.90,64.66 345.22,64.61 345.55,64.56 345.87,64.51 346.19,64.46 346.52,64.42 346.84,64.37 347.17,64.32 347.49,64.27 347.82,64.22 348.14,64.18 348.46,64.13 348.79,64.08 349.11,64.04 349.44,64.00" fill="none" stroke="#1a1aee" stroke-width="2.1" stroke-linejoin="round" stroke-linecap="round" />
<polyline points="220.00,114.49 220.32,114.50 220.65,114.51 220.97,114.51 221.30,114.52 221.62,114.53 221.95,114.54 222.27,114.55 222.60,114.56 222.92,114.56 223.24,114.57 223.57,114.58 223.89,114.59 224.22,114.60 224.54,114.61 224.87,114.62 225.19,114.63 225.51,114.64 225.84,114.65 226.16,114.66 226.49,114.67 226.81,114.68 227.14,114.68 227.46,114.69 227.79,114.70 228.11,114.71 228.43,114.72 228.76,114.73 229.08,114.74 229.41,114.75 229.73,114.76 230.06,114.77 230.38,114.78 230.71,114.79 231.03,114.80 231.35,114.81 231.68,114.81 232.00,114.82 232.33,114.83 232.65,114.84 232.98,114.85 233.30,114.86 233.63,114.87 233.95,114.88 234.27,114.89 234.60,114.90 234.92,114.91 235.25,114.92 235.57,114.93 235.90,114.93 236.22,114.94 236.54,114.95 236.87,114.96 237.19,114.97 237.52,114.97 237.84,114.97 238.17,114.96 238.49,114.93 238.82,114.88 239.14,114.81 239.46,114.72 239.79,114.60 240.11,114.45 240.44,114.30 240.76,114.13 241.09,113.98 241.41,113.84 241.74,113.73 242.06,113.64 242.38,113.58 242.71,113.53 243.03,113.50 243.36,113.49 243.68,113.48 244.01,113.47 244.33,113.47 244.65,113.46 244.98,113.46 245.30,113.46 245.63,113.46 245.95,113.45 246.28,113.45 246.60,113.45 246.93,113.45 247.25,113.45 247.57,113.44 247.90,113.44 248.22,113.44 248.55,113.44 248.87,113.44 249.20,113.43 249.52,113.43 249.85,113.43 250.17,113.43 250.49,113.42 250.82,113.42 251.14,113.42 251.47,113.42 251.79,113.42 252.12,113.41 252.44,113.41 252.77,113.41 253.09,113.41 253.41,113.41 253.74,113.40 254.06,113.40 254.39,113.40 254.71,113.40 255.04,113.40 255.36,113.39 255.68,113.39 256.01,113.39 256.33,113.38 256.66,113.37 256.98,113.35 257.31,113.32 257.63,113.28 257.96,113.21 258.28,113.11 258.60,112.98 258.93,112.82 259.25,112.64 259.58,112.44 259.90,112.23 260.23,112.03 260.55,111.84 260.88,111.68 261.20,111.54 261.52,111.44 261.85,111.36 262.17,111.31 262.50,111.28 262.82,111.26 263.15,111.24 263.47,111.23 263.79,111.23 264.12,111.22 264.44,111.22 264.77,111.21 265.09,111.21 265.42,111.20 265.74,111.20 266.07,111.19 266.39,111.19 266.71,111.18 267.04,111.18 267.36,111.17 267.69,111.17 268.01,111.17 268.34,111.16 268.66,111.16 268.99,111.15 269.31,111.15 269.63,111.14 269.96,111.14 270.28,111.13 270.61,111.13 270.93,111.12 271.26,111.12 271.58,111.11 271.90,111.11 272.23,111.11 272.55,111.10 272.88,111.10 273.20,111.09 273.53,111.08 273.85,111.07 274.18,111.05 274.50,111.02 274.82,110.95 275.15,110.84 275.47,110.64 275.80,110.33 276.12,109.87 276.45,109.24 276.77,108.44 277.10,107.48 277.42,106.38 277.74,105.20 278.07,104.00 278.39,102.83 278.72,101.76 279.04,100.83 279.37,100.07 279.69,99.48 280.02,99.05 280.34,98.76 280.66,98.58 280.99,98.46 281.31,98.40 281.64,98.35 281.96,98.33 282.29,98.31 282.61,98.29 282.93,98.27 283.26,98.26 283.58,98.24 283.91,98.22 284.23,98.21 284.56,98.19 284.88,98.18 285.21,98.16 285.53,98.14 285.85,98.13 286.18,98.11 286.50,98.10 286.83,98.08 287.15,98.06 287.48,98.05 287.80,98.03 288.13,98.01 288.45,98.00 288.77,97.98 289.10,97.97 289.42,97.95 289.75,97.93 290.07,97.92 290.40,97.90 290.72,97.89 291.04,97.87 291.37,97.85 291.69,97.84 292.02,97.82 292.34,97.79 292.67,97.75 292.99,97.69 293.32,97.59 293.64,97.42 293.96,97.14 294.29,96.73 294.61,96.15 294.94,95.37 295.26,94.39 295.59,93.24 295.91,91.93 296.24,90.51 296.56,89.04 296.88,87.57 297.21,86.16 297.53,84.85 297.86,83.68 298.18,82.70 298.51,81.92 298.83,81.32 299.16,80.90 299.48,80.62 299.80,80.44 300.13,80.33 300.45,80.26 300.78,80.22 301.10,80.18 301.43,80.16 301.75,80.13 302.07,80.11 302.40,80.09 302.72,80.06 303.05,80.04 303.37,80.02 303.70,79.99 304.02,79.97 304.35,79.95 304.67,79.93 304.99,79.90 305.32,79.88 305.64,79.86 305.97,79.83 306.29,79.81 306.62,79.79 306.94,79.76 307.27,79.74 307.59,79.72 307.91,79.70 308.24,79.67 308.56,79.65 308.89,79.63 309.21,79.60 309.54,79.58 309.86,79.56 310.18,79.53 310.51,79.51 310.83,79.49 311.16,79.46 311.48,79.42 311.81,79.37 312.13,79.30 312.46,79.17 312.78,78.97 313.10,78.66 313.43,78.20 313.75,77.57 314.08,76.75 314.40,75.74 314.73,74.56 315.05,73.23 315.38,71.80 315.70,70.31 316.02,68.78 316.35,67.25 316.67,65.75 317.00,64.32 317.32,63.00 317.65,61.82 317.97,60.81 318.30,59.99 318.62,59.37 318.94,58.91 319.27,58.60 319.59,58.40 319.92,58.28 320.24,58.20 320.57,58.15 320.89,58.12 321.21,58.09 321.54,58.06 321.86,58.04 322.19,58.02 322.51,57.99 322.84,57.97 323.16,57.94 323.49,57.92 323.81,57.90 324.13,57.87 324.46,57.85 324.78,57.83 325.11,57.80 325.43,57.78 325.76,57.76 326.08,57.73 326.41,57.71 326.73,57.68 327.05,57.66 327.38,57.64 327.70,57.61 328.03,57.59 328.35,57.57 328.68,57.54 329.00,57.51 329.32,57.48 329.65,57.44 329.97,57.37 330.30,57.26 330.62,57.08 330.95,56.79 331.27,56.37 331.60,55.78 331.92,55.00 332.24,54.03 332.57,52.87 332.89,51.56 333.22,50.13 333.54,48.62 333.87,47.08 334.19,45.54 334.52,44.03 334.84,42.60 335.16,41.29 335.49,40.13 335.81,39.16 336.14,38.38 336.46,37.80 336.79,37.39 337.11,37.12 337.43,36.95 337.76,36.86 338.08,36.81 338.41,36.78 338.73,36.77 339.06,36.76 339.38,36.76 339.71,36.75 340.03,36.75 340.35,36.74 340.68,36.74 341.00,36.74 341.33,36.73 341.65,36.73 341.98,36.72 342.30,36.72 342.63,36.72 342.95,36.71 343.27,36.71 343.60,36.71 343.92,36.71 344.25,36.71 344.57,36.72 344.90,36.74 345.22,36.76 345.55,36.78 345.87,36.81 346.19,36.85 346.52,36.89 346.84,36.94 347.17,36.99 347.49,37.04 347.82,37.08 348.14,37.13 348.46,37.18 348.79,37.23 349.11,37.27 349.44,37.31" fill="none" stroke="#ee1111" stroke-width="2.2" stroke-linejoin="round" stroke-linecap="round" />
<rect x="220.3" y="28.1" width="82" height="36.4" fill="#fff" stroke="none" stroke-width="1" />
<line x1="227.70" y1="35.60" x2="244.00" y2="35.60" stroke="#ee1111" stroke-width="1.8" />
<text x="246.2" y="38.1" font-size="7" text-anchor="start" font-weight="normal" font-style="normal" fill="#222" font-family='"Liberation Sans", sans-serif'  stroke="#222" stroke-width="0.14">Adrenaline</text>
<line x1="227.70" y1="43.75" x2="244.00" y2="43.75" stroke="#111" stroke-width="1.8" />
<text x="246.2" y="46.25" font-size="7" text-anchor="start" font-weight="normal" font-style="normal" fill="#222" font-family='"Liberation Sans", sans-serif'  stroke="#222" stroke-width="0.14">Dobutamine</text>
<line x1="227.70" y1="51.90" x2="244.00" y2="51.90" stroke="#1a1aee" stroke-width="1.8" />
<text x="246.2" y="54.400000000000006" font-size="7" text-anchor="start" font-weight="normal" font-style="normal" fill="#222" font-family='"Liberation Sans", sans-serif'  stroke="#222" stroke-width="0.14">Dopamine</text>
<line x1="227.70" y1="60.05" x2="244.00" y2="60.05" stroke="#22dd22" stroke-width="1.8" />
<text x="246.2" y="62.550000000000004" font-size="7" text-anchor="start" font-weight="normal" font-style="normal" fill="#222" font-family='"Liberation Sans", sans-serif'  stroke="#222" stroke-width="0.14">Noradrenaline</text>
<text x="220.2" y="112.1" font-size="7" text-anchor="start" font-weight="normal" font-style="normal" fill="#222" font-family='"Liberation Sans", sans-serif'  stroke="#222" stroke-width="0.14">Buffer</text>
<text x="239.5" y="112.1" font-size="7" text-anchor="start" font-weight="normal" font-style="normal" fill="#222" font-family='"Liberation Sans", sans-serif'  stroke="#222" stroke-width="0.14">1 nM</text>
<text x="259.7" y="108" font-size="7" text-anchor="start" font-weight="normal" font-style="normal" fill="#222" font-family='"Liberation Sans", sans-serif'  stroke="#222" stroke-width="0.14">5 nM</text>
<text x="275.3" y="95.8" font-size="7" text-anchor="start" font-weight="normal" font-style="normal" fill="#222" font-family='"Liberation Sans", sans-serif'  stroke="#222" stroke-width="0.14">10 nM</text>
<text x="293.6" y="78" font-size="7" text-anchor="start" font-weight="normal" font-style="normal" fill="#222" font-family='"Liberation Sans", sans-serif'  stroke="#222" stroke-width="0.14">50 nM</text>
<text x="308.3" y="55.4" font-size="7" text-anchor="start" font-weight="normal" font-style="normal" fill="#222" font-family='"Liberation Sans", sans-serif'  stroke="#222" stroke-width="0.14">100 nM</text>
<text x="326.7" y="34.8" font-size="7" text-anchor="start" font-weight="normal" font-style="normal" fill="#222" font-family='"Liberation Sans", sans-serif'  stroke="#222" stroke-width="0.14">150 nM</text>
<rect x="219.8" y="27.7" width="135.7" height="95.1" fill="none" stroke="#555" stroke-width="0.8" />
<text x="372.0" y="22.75" font-size="7.6" text-anchor="start" font-weight="bold" font-style="normal" fill="#111" font-family='"Liberation Sans", sans-serif' >(c)</text>
<line x1="389.30" y1="123.10" x2="391.30" y2="123.10" stroke="#555" stroke-width="0.6" />
<line x1="531.00" y1="123.10" x2="529.00" y2="123.10" stroke="#555" stroke-width="0.6" />
<line x1="389.30" y1="117.41" x2="390.50" y2="117.41" stroke="#555" stroke-width="0.6" />
<line x1="531.00" y1="117.41" x2="529.80" y2="117.41" stroke="#555" stroke-width="0.6" />
<text x="386.6" y="125.6" font-size="7" text-anchor="end" font-weight="normal" font-style="normal" fill="#222" font-family='"Liberation Sans", sans-serif'  stroke="#222" stroke-width="0.14">0.0</text>
<line x1="389.30" y1="111.71" x2="391.30" y2="111.71" stroke="#555" stroke-width="0.6" />
<line x1="531.00" y1="111.71" x2="529.00" y2="111.71" stroke="#555" stroke-width="0.6" />
<line x1="389.30" y1="106.01" x2="390.50" y2="106.01" stroke="#555" stroke-width="0.6" />
<line x1="531.00" y1="106.01" x2="529.80" y2="106.01" stroke="#555" stroke-width="0.6" />
<text x="386.6" y="114.21" font-size="7" text-anchor="end" font-weight="normal" font-style="normal" fill="#222" font-family='"Liberation Sans", sans-serif'  stroke="#222" stroke-width="0.14">0.1</text>
<line x1="389.30" y1="100.32" x2="391.30" y2="100.32" stroke="#555" stroke-width="0.6" />
<line x1="531.00" y1="100.32" x2="529.00" y2="100.32" stroke="#555" stroke-width="0.6" />
<line x1="389.30" y1="94.62" x2="390.50" y2="94.62" stroke="#555" stroke-width="0.6" />
<line x1="531.00" y1="94.62" x2="529.80" y2="94.62" stroke="#555" stroke-width="0.6" />
<text x="386.6" y="102.82" font-size="7" text-anchor="end" font-weight="normal" font-style="normal" fill="#222" font-family='"Liberation Sans", sans-serif'  stroke="#222" stroke-width="0.14">0.2</text>
<line x1="389.30" y1="88.93" x2="391.30" y2="88.93" stroke="#555" stroke-width="0.6" />
<line x1="531.00" y1="88.93" x2="529.00" y2="88.93" stroke="#555" stroke-width="0.6" />
<line x1="389.30" y1="83.23" x2="390.50" y2="83.23" stroke="#555" stroke-width="0.6" />
<line x1="531.00" y1="83.23" x2="529.80" y2="83.23" stroke="#555" stroke-width="0.6" />
<text x="386.6" y="91.42999999999998" font-size="7" text-anchor="end" font-weight="normal" font-style="normal" fill="#222" font-family='"Liberation Sans", sans-serif'  stroke="#222" stroke-width="0.14">0.3</text>
<line x1="389.30" y1="77.54" x2="391.30" y2="77.54" stroke="#555" stroke-width="0.6" />
<line x1="531.00" y1="77.54" x2="529.00" y2="77.54" stroke="#555" stroke-width="0.6" />
<line x1="389.30" y1="71.84" x2="390.50" y2="71.84" stroke="#555" stroke-width="0.6" />
<line x1="531.00" y1="71.84" x2="529.80" y2="71.84" stroke="#555" stroke-width="0.6" />
<text x="386.6" y="80.03999999999999" font-size="7" text-anchor="end" font-weight="normal" font-style="normal" fill="#222" font-family='"Liberation Sans", sans-serif'  stroke="#222" stroke-width="0.14">0.4</text>
<line x1="389.30" y1="66.15" x2="391.30" y2="66.15" stroke="#555" stroke-width="0.6" />
<line x1="531.00" y1="66.15" x2="529.00" y2="66.15" stroke="#555" stroke-width="0.6" />
<line x1="389.30" y1="60.45" x2="390.50" y2="60.45" stroke="#555" stroke-width="0.6" />
<line x1="531.00" y1="60.45" x2="529.80" y2="60.45" stroke="#555" stroke-width="0.6" />
<text x="386.6" y="68.64999999999999" font-size="7" text-anchor="end" font-weight="normal" font-style="normal" fill="#222" font-family='"Liberation Sans", sans-serif'  stroke="#222" stroke-width="0.14">0.5</text>
<line x1="389.30" y1="54.76" x2="391.30" y2="54.76" stroke="#555" stroke-width="0.6" />
<line x1="531.00" y1="54.76" x2="529.00" y2="54.76" stroke="#555" stroke-width="0.6" />
<line x1="389.30" y1="49.06" x2="390.50" y2="49.06" stroke="#555" stroke-width="0.6" />
<line x1="531.00" y1="49.06" x2="529.80" y2="49.06" stroke="#555" stroke-width="0.6" />
<text x="386.6" y="57.25999999999998" font-size="7" text-anchor="end" font-weight="normal" font-style="normal" fill="#222" font-family='"Liberation Sans", sans-serif'  stroke="#222" stroke-width="0.14">0.6</text>
<line x1="389.30" y1="43.37" x2="391.30" y2="43.37" stroke="#555" stroke-width="0.6" />
<line x1="531.00" y1="43.37" x2="529.00" y2="43.37" stroke="#555" stroke-width="0.6" />
<line x1="389.30" y1="37.67" x2="390.50" y2="37.67" stroke="#555" stroke-width="0.6" />
<line x1="531.00" y1="37.67" x2="529.80" y2="37.67" stroke="#555" stroke-width="0.6" />
<text x="386.6" y="45.869999999999976" font-size="7" text-anchor="end" font-weight="normal" font-style="normal" fill="#222" font-family='"Liberation Sans", sans-serif'  stroke="#222" stroke-width="0.14">0.7</text>
<line x1="389.30" y1="31.98" x2="391.30" y2="31.98" stroke="#555" stroke-width="0.6" />
<line x1="531.00" y1="31.98" x2="529.00" y2="31.98" stroke="#555" stroke-width="0.6" />
<text x="386.6" y="34.47999999999999" font-size="7" text-anchor="end" font-weight="normal" font-style="normal" fill="#222" font-family='"Liberation Sans", sans-serif'  stroke="#222" stroke-width="0.14">0.8</text>
<line x1="390.70" y1="124.40" x2="390.70" y2="122.40" stroke="#555" stroke-width="0.6" />
<line x1="390.70" y1="27.50" x2="390.70" y2="29.50" stroke="#555" stroke-width="0.6" />
<line x1="399.51" y1="124.40" x2="399.51" y2="123.20" stroke="#555" stroke-width="0.6" />
<line x1="399.51" y1="27.50" x2="399.51" y2="28.70" stroke="#555" stroke-width="0.6" />
<text x="390.7" y="132.8" font-size="7" text-anchor="middle" font-weight="normal" font-style="normal" fill="#222" font-family='"Liberation Sans", sans-serif'  stroke="#222" stroke-width="0.14">0</text>
<line x1="408.31" y1="124.40" x2="408.31" y2="122.40" stroke="#555" stroke-width="0.6" />
<line x1="408.31" y1="27.50" x2="408.31" y2="29.50" stroke="#555" stroke-width="0.6" />
<line x1="417.12" y1="124.40" x2="417.12" y2="123.20" stroke="#555" stroke-width="0.6" />
<line x1="417.12" y1="27.50" x2="417.12" y2="28.70" stroke="#555" stroke-width="0.6" />
<text x="408.31399999999996" y="132.8" font-size="7" text-anchor="middle" font-weight="normal" font-style="normal" fill="#222" font-family='"Liberation Sans", sans-serif'  stroke="#222" stroke-width="0.14">20</text>
<line x1="425.93" y1="124.40" x2="425.93" y2="122.40" stroke="#555" stroke-width="0.6" />
<line x1="425.93" y1="27.50" x2="425.93" y2="29.50" stroke="#555" stroke-width="0.6" />
<line x1="434.74" y1="124.40" x2="434.74" y2="123.20" stroke="#555" stroke-width="0.6" />
<line x1="434.74" y1="27.50" x2="434.74" y2="28.70" stroke="#555" stroke-width="0.6" />
<text x="425.928" y="132.8" font-size="7" text-anchor="middle" font-weight="normal" font-style="normal" fill="#222" font-family='"Liberation Sans", sans-serif'  stroke="#222" stroke-width="0.14">40</text>
<line x1="443.54" y1="124.40" x2="443.54" y2="122.40" stroke="#555" stroke-width="0.6" />
<line x1="443.54" y1="27.50" x2="443.54" y2="29.50" stroke="#555" stroke-width="0.6" />
<line x1="452.35" y1="124.40" x2="452.35" y2="123.20" stroke="#555" stroke-width="0.6" />
<line x1="452.35" y1="27.50" x2="452.35" y2="28.70" stroke="#555" stroke-width="0.6" />
<text x="443.542" y="132.8" font-size="7" text-anchor="middle" font-weight="normal" font-style="normal" fill="#222" font-family='"Liberation Sans", sans-serif'  stroke="#222" stroke-width="0.14">60</text>
<line x1="461.16" y1="124.40" x2="461.16" y2="122.40" stroke="#555" stroke-width="0.6" />
<line x1="461.16" y1="27.50" x2="461.16" y2="29.50" stroke="#555" stroke-width="0.6" />
<line x1="469.96" y1="124.40" x2="469.96" y2="123.20" stroke="#555" stroke-width="0.6" />
<line x1="469.96" y1="27.50" x2="469.96" y2="28.70" stroke="#555" stroke-width="0.6" />
<text x="461.156" y="132.8" font-size="7" text-anchor="middle" font-weight="normal" font-style="normal" fill="#222" font-family='"Liberation Sans", sans-serif'  stroke="#222" stroke-width="0.14">80</text>
<line x1="478.77" y1="124.40" x2="478.77" y2="122.40" stroke="#555" stroke-width="0.6" />
<line x1="478.77" y1="27.50" x2="478.77" y2="29.50" stroke="#555" stroke-width="0.6" />
<line x1="487.58" y1="124.40" x2="487.58" y2="123.20" stroke="#555" stroke-width="0.6" />
<line x1="487.58" y1="27.50" x2="487.58" y2="28.70" stroke="#555" stroke-width="0.6" />
<text x="478.77" y="132.8" font-size="7" text-anchor="middle" font-weight="normal" font-style="normal" fill="#222" font-family='"Liberation Sans", sans-serif'  stroke="#222" stroke-width="0.14">100</text>
<line x1="496.38" y1="124.40" x2="496.38" y2="122.40" stroke="#555" stroke-width="0.6" />
<line x1="496.38" y1="27.50" x2="496.38" y2="29.50" stroke="#555" stroke-width="0.6" />
<line x1="505.19" y1="124.40" x2="505.19" y2="123.20" stroke="#555" stroke-width="0.6" />
<line x1="505.19" y1="27.50" x2="505.19" y2="28.70" stroke="#555" stroke-width="0.6" />
<text x="496.384" y="132.8" font-size="7" text-anchor="middle" font-weight="normal" font-style="normal" fill="#222" font-family='"Liberation Sans", sans-serif'  stroke="#222" stroke-width="0.14">120</text>
<line x1="514.00" y1="124.40" x2="514.00" y2="122.40" stroke="#555" stroke-width="0.6" />
<line x1="514.00" y1="27.50" x2="514.00" y2="29.50" stroke="#555" stroke-width="0.6" />
<line x1="522.81" y1="124.40" x2="522.81" y2="123.20" stroke="#555" stroke-width="0.6" />
<line x1="522.81" y1="27.50" x2="522.81" y2="28.70" stroke="#555" stroke-width="0.6" />
<text x="513.998" y="132.8" font-size="7" text-anchor="middle" font-weight="normal" font-style="normal" fill="#222" font-family='"Liberation Sans", sans-serif'  stroke="#222" stroke-width="0.14">140</text>
<line x1="531.61" y1="124.40" x2="531.61" y2="122.40" stroke="#555" stroke-width="0.6" />
<line x1="531.61" y1="27.50" x2="531.61" y2="29.50" stroke="#555" stroke-width="0.6" />
<text x="531.612" y="132.8" font-size="7" text-anchor="middle" font-weight="normal" font-style="normal" fill="#222" font-family='"Liberation Sans", sans-serif'  stroke="#222" stroke-width="0.14">160</text>
<text x="460.8" y="141.8" font-size="7.1" text-anchor="middle" font-weight="normal" font-style="normal" fill="#222" font-family='"Liberation Sans", sans-serif'  stroke="#222" stroke-width="0.14">Concentration (nM)</text>
<text x="371.5" y="80.5" font-size="6.6" text-anchor="middle" font-weight="normal" font-style="normal" fill="#222" font-family='"Liberation Sans", sans-serif' transform="rotate(-90 371.5 80.5)"  stroke="#222" stroke-width="0.14">Current (μA)</text>
<polyline points="390.70,114.58 391.58,114.24 395.10,112.00 399.51,99.01" fill="none" stroke="#ee1111" stroke-width="1.3" stroke-linejoin="round" stroke-linecap="round" />
<line x1="399.51" y1="99.01" x2="434.74" y2="80.86" stroke="#ee1111" stroke-width="1.8" stroke-dasharray="9.4 8.9" stroke-dashoffset="9.4"/>
<line x1="434.74" y1="80.86" x2="478.77" y2="58.24" stroke="#ee1111" stroke-width="1.8" stroke-dasharray="9.4 8.9" stroke-dashoffset="0"/>
<line x1="478.77" y1="58.24" x2="522.81" y2="36.96" stroke="#ee1111" stroke-width="1.8" stroke-dasharray="9.4 8.9" stroke-dashoffset="0"/>
<rect x="388.5" y="112.376" width="4.4" height="4.4" fill="#ee1111" stroke="none" stroke-width="1" />
<rect x="389.3807" y="112.04" width="4.4" height="4.4" fill="#ee1111" stroke="none" stroke-width="1" />
<rect x="392.9035" y="109.8" width="4.4" height="4.4" fill="#ee1111" stroke="none" stroke-width="1" />
<rect x="397.307" y="96.808" width="4.4" height="4.4" fill="#ee1111" stroke="none" stroke-width="1" />
<rect x="432.535" y="78.664" width="4.4" height="4.4" fill="#ee1111" stroke="none" stroke-width="1" />
<rect x="476.57" y="56.040000000000006" width="4.4" height="4.4" fill="#ee1111" stroke="none" stroke-width="1" />
<rect x="520.605" y="34.75999999999999" width="4.4" height="4.4" fill="#ee1111" stroke="none" stroke-width="1" />
<polyline points="390.70,116.48 391.58,116.48 395.10,116.48 399.51,116.26" fill="none" stroke="#111" stroke-width="1.3" stroke-linejoin="round" stroke-linecap="round" />
<line x1="399.51" y1="116.26" x2="434.74" y2="112.56" stroke="#111" stroke-width="1.8" stroke-dasharray="9.4 8.9" stroke-dashoffset="9.4"/>
<line x1="434.74" y1="112.56" x2="478.77" y2="107.52" stroke="#111" stroke-width="1.8" stroke-dasharray="9.4 8.9" stroke-dashoffset="0"/>
<line x1="478.77" y1="107.52" x2="522.81" y2="101.92" stroke="#111" stroke-width="1.8" stroke-dasharray="9.4 8.9" stroke-dashoffset="0"/>
<circle cx="390.70" cy="116.48" r="2.09" fill="#111"/>
<circle cx="391.58" cy="116.48" r="2.09" fill="#111"/>
<circle cx="395.10" cy="116.48" r="2.09" fill="#111"/>
<circle cx="399.51" cy="116.26" r="2.09" fill="#111"/>
<circle cx="434.74" cy="112.56" r="2.09" fill="#111"/>
<circle cx="478.77" cy="107.52" r="2.09" fill="#111"/>
<circle cx="522.81" cy="101.92" r="2.09" fill="#111"/>
<polyline points="390.70,115.36 391.58,115.36 395.10,115.36 399.51,114.80" fill="none" stroke="#1a1aee" stroke-width="1.3" stroke-linejoin="round" stroke-linecap="round" />
<line x1="399.51" y1="114.80" x2="434.74" y2="100.80" stroke="#1a1aee" stroke-width="1.8" stroke-dasharray="9.4 8.9" stroke-dashoffset="9.4"/>
<line x1="434.74" y1="100.80" x2="478.77" y2="82.88" stroke="#1a1aee" stroke-width="1.8" stroke-dasharray="9.4 8.9" stroke-dashoffset="0"/>
<line x1="478.77" y1="82.88" x2="522.81" y2="63.84" stroke="#1a1aee" stroke-width="1.8" stroke-dasharray="9.4 8.9" stroke-dashoffset="0"/>
<polygon points="390.70,112.39 393.34,117.34 388.06,117.34" fill="#1a1aee" stroke="none" stroke-width="1" />
<polygon points="391.58,112.39 394.22,117.34 388.94,117.34" fill="#1a1aee" stroke="none" stroke-width="1" />
<polygon points="395.10,112.39 397.74,117.34 392.46,117.34" fill="#1a1aee" stroke="none" stroke-width="1" />
<polygon points="399.51,111.83 402.15,116.78 396.87,116.78" fill="#1a1aee" stroke="none" stroke-width="1" />
<polygon points="434.74,97.83 437.38,102.78 432.10,102.78" fill="#1a1aee" stroke="none" stroke-width="1" />
<polygon points="478.77,79.91 481.41,84.86 476.13,84.86" fill="#1a1aee" stroke="none" stroke-width="1" />
<polygon points="522.81,60.87 525.45,65.82 520.17,65.82" fill="#1a1aee" stroke="none" stroke-width="1" />
<polyline points="390.70,119.28 391.58,119.28 395.10,119.28 399.51,119.28" fill="none" stroke="#22dd22" stroke-width="1.3" stroke-linejoin="round" stroke-linecap="round" />
<line x1="399.51" y1="119.28" x2="434.74" y2="113.12" stroke="#22dd22" stroke-width="1.8" stroke-dasharray="9.4 8.9" stroke-dashoffset="9.4"/>
<line x1="434.74" y1="113.12" x2="478.77" y2="105.84" stroke="#22dd22" stroke-width="1.8" stroke-dasharray="9.4 8.9" stroke-dashoffset="0"/>
<line x1="478.77" y1="105.84" x2="522.81" y2="94.08" stroke="#22dd22" stroke-width="1.8" stroke-dasharray="9.4 8.9" stroke-dashoffset="0"/>
<polygon points="390.70,122.25 393.34,117.30 388.06,117.30" fill="#22dd22" stroke="none" stroke-width="1" />
<polygon points="391.58,122.25 394.22,117.30 388.94,117.30" fill="#22dd22" stroke="none" stroke-width="1" />
<polygon points="395.10,122.25 397.74,117.30 392.46,117.30" fill="#22dd22" stroke="none" stroke-width="1" />
<polygon points="399.51,122.25 402.15,117.30 396.87,117.30" fill="#22dd22" stroke="none" stroke-width="1" />
<polygon points="434.74,116.09 437.38,111.14 432.10,111.14" fill="#22dd22" stroke="none" stroke-width="1" />
<polygon points="478.77,108.81 481.41,103.86 476.13,103.86" fill="#22dd22" stroke="none" stroke-width="1" />
<polygon points="522.81,97.05 525.45,92.10 520.17,92.10" fill="#22dd22" stroke="none" stroke-width="1" />
<rect x="392.5" y="27.9" width="84" height="35" fill="#fff" stroke="none" stroke-width="1" />
<line x1="394.70" y1="34.60" x2="401.20" y2="34.60" stroke="#ee1111" stroke-width="1.6" />
<line x1="405.00" y1="34.60" x2="411.60" y2="34.60" stroke="#ee1111" stroke-width="1.6" />
<rect x="401.55" y="33.050000000000004" width="3.1" height="3.1" fill="#ee1111" stroke="none" stroke-width="1" />
<text x="413.3" y="37.1" font-size="7.2" text-anchor="start" font-weight="normal" font-style="normal" fill="#222" font-family='"Liberation Sans", sans-serif'  stroke="#222" stroke-width="0.14">Adrenaline</text>
<line x1="394.70" y1="43.00" x2="401.20" y2="43.00" stroke="#111" stroke-width="1.6" />
<line x1="405.00" y1="43.00" x2="411.60" y2="43.00" stroke="#111" stroke-width="1.6" />
<circle cx="403.10" cy="43.00" r="1.47" fill="#111"/>
<text x="413.3" y="45.5" font-size="7.2" text-anchor="start" font-weight="normal" font-style="normal" fill="#222" font-family='"Liberation Sans", sans-serif'  stroke="#222" stroke-width="0.14">Dobutamine</text>
<line x1="394.70" y1="51.40" x2="401.20" y2="51.40" stroke="#1a1aee" stroke-width="1.6" />
<line x1="405.00" y1="51.40" x2="411.60" y2="51.40" stroke="#1a1aee" stroke-width="1.6" />
<polygon points="403.10,49.31 404.96,52.80 401.24,52.80" fill="#1a1aee" stroke="none" stroke-width="1" />
<text x="413.3" y="53.900000000000006" font-size="7.2" text-anchor="start" font-weight="normal" font-style="normal" fill="#222" font-family='"Liberation Sans", sans-serif'  stroke="#222" stroke-width="0.14">Dopamine</text>
<line x1="394.70" y1="59.80" x2="401.20" y2="59.80" stroke="#22dd22" stroke-width="1.6" />
<line x1="405.00" y1="59.80" x2="411.60" y2="59.80" stroke="#22dd22" stroke-width="1.6" />
<polygon points="403.10,61.89 404.96,58.41 401.24,58.41" fill="#22dd22" stroke="none" stroke-width="1" />
<text x="413.3" y="62.300000000000004" font-size="7.2" text-anchor="start" font-weight="normal" font-style="normal" fill="#222" font-family='"Liberation Sans", sans-serif'  stroke="#222" stroke-width="0.14">Noradrenaline</text>
<rect x="389.3" y="27.5" width="141.7" height="96.9" fill="none" stroke="#555" stroke-width="0.8" />
<text x="7.9" y="161.35" font-size="7.6" text-anchor="start" font-weight="bold" font-style="normal" fill="#111" font-family='"Liberation Sans", sans-serif' >(d)</text>
<line x1="17.60" y1="165.80" x2="17.60" y2="224.20" stroke="#2a2a2a" stroke-width="1.1" />
<line x1="17.10" y1="223.70" x2="171.40" y2="223.70" stroke="#2a2a2a" stroke-width="1.2" />
<text x="0" y="0" font-size="6.0" text-anchor="middle" fill="#333" font-family='"Liberation Sans", sans-serif' transform="translate(11.9 195.7) rotate(-90) scale(0.81 1)" stroke="#333" stroke-width="0.15">Locomotor Activity</text>
<text x="89.2" y="230.6" font-size="7.2" text-anchor="middle" font-weight="normal" font-style="normal" fill="#333" font-family='"Liberation Sans", sans-serif' transform="translate(89.2 230.6) scale(0.64 1) translate(-89.2 -230.6)" stroke="#333" stroke-width="0.2">Time</text>
<defs><linearGradient id="dcg" gradientUnits="userSpaceOnUse" x1="18.9" y1="0" x2="171.4" y2="0"><stop offset="0.0000" stop-color="#1d2b6b"/><stop offset="0.2564" stop-color="#1d2b6b"/><stop offset="0.3220" stop-color="#a9c5ea"/><stop offset="0.4728" stop-color="#a9c5ea"/><stop offset="0.5403" stop-color="#1d2b6b"/><stop offset="0.5744" stop-color="#cc1424"/><stop offset="0.6695" stop-color="#cc1424"/><stop offset="0.7351" stop-color="#1d2b6b"/><stop offset="1.0000" stop-color="#1d2b6b"/></linearGradient></defs>
<path d="M18.90,204.50 L23.39,204.49 L29.91,204.47 L37.48,204.44 L45.10,204.44 L51.77,204.49 L56.50,204.60 L59.06,204.78 L60.19,205.01 L60.38,205.29 L60.10,205.60 L59.81,205.94 L60.00,206.30 L60.59,206.69 L61.19,207.12 L61.78,207.58 L62.37,208.06 L62.95,208.53 L63.50,209.00 L64.03,209.47 L64.54,209.94 L65.04,210.43 L65.53,210.90 L66.02,211.36 L66.50,211.80 L66.97,212.22 L67.41,212.64 L67.86,213.04 L68.31,213.42 L68.78,213.77 L69.30,214.10 L69.85,214.40 L70.41,214.67 L71.00,214.91 L71.62,215.13 L72.29,215.33 L73.00,215.50 L73.76,215.64 L74.56,215.75 L75.41,215.84 L76.29,215.90 L77.22,215.96 L78.20,216.00 L79.25,216.04 L80.38,216.06 L81.56,216.07 L82.74,216.06 L83.90,216.04 L85.00,216.00 L86.06,215.94 L87.10,215.86 L88.12,215.76 L89.10,215.64 L90.03,215.52 L90.90,215.40 L91.70,215.27 L92.46,215.14 L93.16,215.00 L93.81,214.85 L94.42,214.68 L95.00,214.50 L95.53,214.31 L96.00,214.10 L96.42,213.89 L96.83,213.65 L97.21,213.39 L97.60,213.10 L97.99,212.78 L98.36,212.43 L98.72,212.06 L99.06,211.66 L99.39,211.24 L99.70,210.80 L99.99,210.33 L100.25,209.83 L100.50,209.31 L100.74,208.78 L100.97,208.24 L101.20,207.70 L101.43,207.17 L101.65,206.63 L101.86,206.09 L102.07,205.54 L102.29,204.98 L102.50,204.40 L102.71,203.82 L102.91,203.26 L103.11,202.68 L103.32,202.06 L103.55,201.37 L103.80,200.60 L104.08,199.77 L104.37,198.92 L104.67,198.00 L105.00,196.98 L105.34,195.83 L105.70,194.50 L106.08,192.94 L106.50,191.16 L106.93,189.24 L107.36,187.27 L107.79,185.33 L108.20,183.50 L108.60,181.72 L108.99,179.91 L109.38,178.14 L109.76,176.44 L110.14,174.88 L110.50,173.50 L110.85,172.32 L111.18,171.29 L111.50,170.39 L111.82,169.61 L112.15,168.92 L112.50,168.30 L112.87,167.75 L113.25,167.29 L113.64,166.93 L114.03,166.65 L114.42,166.48 L114.80,166.40 L115.18,166.44 L115.55,166.59 L115.92,166.83 L116.29,167.16 L116.65,167.55 L117.00,168.00 L117.32,168.46 L117.60,168.94 L117.88,169.49 L118.17,170.16 L118.51,170.98 L118.90,172.00 L119.37,173.29 L119.90,174.81 L120.48,176.49 L121.06,178.25 L121.65,180.01 L122.20,181.70 L122.74,183.38 L123.28,185.12 L123.82,186.86 L124.34,188.55 L124.84,190.11 L125.30,191.50 L125.72,192.69 L126.10,193.72 L126.46,194.64 L126.80,195.47 L127.14,196.24 L127.50,197.00 L127.87,197.72 L128.23,198.39 L128.59,199.00 L128.96,199.57 L129.33,200.10 L129.70,200.60 L130.07,201.07 L130.45,201.49 L130.82,201.87 L131.21,202.23 L131.60,202.57 L132.00,202.90 L132.41,203.22 L132.81,203.51 L133.23,203.79 L133.66,204.05 L134.12,204.29 L134.60,204.50 L135.12,204.69 L135.68,204.84 L136.26,204.98 L136.85,205.10 L137.44,205.20 L138.00,205.30 L138.23,205.38 L138.08,205.44 L137.92,205.49 L138.14,205.53 L139.11,205.57 L141.20,205.60 L145.02,205.63 L150.39,205.65 L156.50,205.67 L162.57,205.68 L167.80,205.69 L171.40,205.70" fill="none" stroke="url(#dcg)" stroke-width="2.1" stroke-linejoin="round" stroke-linecap="round"/>
<path d="M101.20,207.70 L101.43,207.17 L101.65,206.63 L101.86,206.09 L102.07,205.54 L102.29,204.98 L102.50,204.40 L102.71,203.82 L102.91,203.26 L103.11,202.68 L103.32,202.06 L103.55,201.37 L103.80,200.60 L104.08,199.77 L104.37,198.92 L104.67,198.00 L105.00,196.98 L105.34,195.83 L105.70,194.50 L106.08,192.94 L106.50,191.16 L106.93,189.24 L107.36,187.27 L107.79,185.33 L108.20,183.50 L108.60,181.72 L108.99,179.91 L109.38,178.14 L109.76,176.44 L110.14,174.88 L110.50,173.50 L110.85,172.32 L111.18,171.29 L111.50,170.39 L111.82,169.61 L112.15,168.92 L112.50,168.30 L112.87,167.75 L113.25,167.29 L113.64,166.93 L114.03,166.65 L114.42,166.48 L114.80,166.40 L115.18,166.44 L115.55,166.59 L115.92,166.83 L116.29,167.16 L116.65,167.55 L117.00,168.00 L117.32,168.46 L117.60,168.94 L117.88,169.49 L118.17,170.16 L118.51,170.98 L118.90,172.00 L119.37,173.29 L119.90,174.81 L120.48,176.49 L121.06,178.25 L121.65,180.01 L122.20,181.70 L122.74,183.38 L123.28,185.12 L123.82,186.86 L124.34,188.55 L124.84,190.11 L125.30,191.50 L125.72,192.69 L126.10,193.72 L126.46,194.64 L126.80,195.47 L127.14,196.24 L127.50,197.00 L127.87,197.72 L128.23,198.39 L128.59,199.00 L128.96,199.57 L129.33,200.10 L129.70,200.60 L130.07,201.07 L130.45,201.49 L130.82,201.87 L131.21,202.23 L131.60,202.57 L132.00,202.90 L132.41,203.22 L132.81,203.51" fill="none" stroke="url(#dcg)" stroke-width="2.7" stroke-linejoin="round" stroke-linecap="round"/>
<text x="37.8" y="199.2" font-size="5.6" text-anchor="middle" font-weight="normal" font-style="italic" fill="#3a3a3a" font-family='"Liberation Sans", sans-serif' transform="translate(37.8 199.2) scale(0.87 1) translate(-37.8 -199.2)" stroke="#3a3a3a" stroke-width="0.12">Healthy</text>
<text x="151.6" y="200.6" font-size="5.6" text-anchor="middle" font-weight="normal" font-style="italic" fill="#3a3a3a" font-family='"Liberation Sans", sans-serif' transform="translate(151.6 200.6) scale(0.87 1) translate(-151.6 -200.6)" stroke="#3a3a3a" stroke-width="0.12">Healthy</text>
<text x="81.6" y="209.0" font-size="5.6" text-anchor="middle" font-weight="normal" font-style="italic" fill="#3a3a3a" font-family='"Liberation Sans", sans-serif' transform="translate(81.6 209.0) scale(0.87 1) translate(-81.6 -209.0)" stroke="#3a3a3a" stroke-width="0.12">Parkinson's</text>
<text x="82.0" y="214.8" font-size="5.6" text-anchor="middle" font-weight="normal" font-style="italic" fill="#3a3a3a" font-family='"Liberation Sans", sans-serif' transform="translate(82.0 214.8) scale(0.87 1) translate(-82.0 -214.8)" stroke="#3a3a3a" stroke-width="0.12">disease</text>
<text x="96.4" y="171.6" font-size="5.6" text-anchor="middle" font-weight="normal" font-style="italic" fill="#3a3a3a" font-family='"Liberation Sans", sans-serif' transform="translate(96.4 171.6) scale(0.87 1) translate(-96.4 -171.6)" stroke="#3a3a3a" stroke-width="0.12">L-Dopa</text>
<text x="96.8" y="177.6" font-size="5.6" text-anchor="middle" font-weight="normal" font-style="italic" fill="#3a3a3a" font-family='"Liberation Sans", sans-serif' transform="translate(96.8 177.6) scale(0.87 1) translate(-96.8 -177.6)" stroke="#3a3a3a" stroke-width="0.12">injection</text>
<line x1="99.90" y1="180.00" x2="99.90" y2="192.50" stroke="#4a6aaa" stroke-width="0.8" />
<polygon points="98.60,191.50 101.20,191.50 99.90,194.80" fill="#4a6aaa" stroke="none" stroke-width="1" />
<defs><linearGradient id="mg" x1="0" y1="0" x2="0" y2="1"><stop offset="0" stop-color="#a4a4b0"/><stop offset="0.55" stop-color="#7a7a86"/><stop offset="1" stop-color="#44444e"/></linearGradient></defs>
<g transform="translate(36.6 214.6) rotate(-14) scale(1.0 1.0)"><path d="M8.2,-0.8 C10.5,-1.8 12.5,-4.5 14.5,-6.8" stroke="#d9d2b4" stroke-width="0.7" fill="none"/><path d="M-9.3,3.2 C-6.5,-0.8 -2.5,-4.6 2.5,-4.6 C6.6,-4.6 9.2,-2.2 9.2,0.6 C9.2,3.6 6.2,4.6 2.2,4.6 C-2.2,4.6 -6,4.4 -9.3,3.2 Z" fill="url(#mg)"/><ellipse cx="-5.2" cy="-2.6" rx="1.1" ry="1.4" fill="#b0b0bc"/><circle cx="-2.6" cy="0.4" r="1.15" fill="#f0c83c"/><path d="M-2,4.4 L-2.4,6 M5.5,4.2 L6.4,5.6" stroke="#c8b878" stroke-width="0.6"/></g>
<g transform="translate(81.4 195.6) rotate(-6) scale(1.0 1.0)"><path d="M8.2,-0.8 C10.5,-1.8 12.5,-4.5 14.5,-6.8" stroke="#d9d2b4" stroke-width="0.7" fill="none"/><path d="M-9.3,3.2 C-6.5,-0.8 -2.5,-4.6 2.5,-4.6 C6.6,-4.6 9.2,-2.2 9.2,0.6 C9.2,3.6 6.2,4.6 2.2,4.6 C-2.2,4.6 -6,4.4 -9.3,3.2 Z" fill="url(#mg)"/><ellipse cx="-5.2" cy="-2.6" rx="1.1" ry="1.4" fill="#b0b0bc"/><circle cx="-2.6" cy="0.4" r="1.15" fill="#f0c83c"/><path d="M-2,4.4 L-2.4,6 M5.5,4.2 L6.4,5.6" stroke="#c8b878" stroke-width="0.6"/></g>
<g transform="translate(147.4 216.8) rotate(-18) scale(1.0 1.0)"><path d="M8.2,-0.8 C10.5,-1.8 12.5,-4.5 14.5,-6.8" stroke="#d9d2b4" stroke-width="0.7" fill="none"/><path d="M-9.3,3.2 C-6.5,-0.8 -2.5,-4.6 2.5,-4.6 C6.6,-4.6 9.2,-2.2 9.2,0.6 C9.2,3.6 6.2,4.6 2.2,4.6 C-2.2,4.6 -6,4.4 -9.3,3.2 Z" fill="url(#mg)"/><ellipse cx="-5.2" cy="-2.6" rx="1.1" ry="1.4" fill="#b0b0bc"/><circle cx="-2.6" cy="0.4" r="1.15" fill="#f0c83c"/><path d="M-2,4.4 L-2.4,6 M5.5,4.2 L6.4,5.6" stroke="#c8b878" stroke-width="0.6"/></g>
<polyline points="21.60,238.90 16.84,241.65 16.84,247.15 21.60,249.90 26.36,247.15 26.36,241.65 21.60,238.90" fill="none" stroke="#333" stroke-width="0.6" stroke-linejoin="round" stroke-linecap="round" />
<line x1="21.60" y1="240.44" x2="18.17" y2="242.42" stroke="#333" stroke-width="0.5" />
<line x1="18.17" y1="246.38" x2="21.60" y2="248.36" stroke="#333" stroke-width="0.5" />
<line x1="25.03" y1="246.38" x2="25.03" y2="242.42" stroke="#333" stroke-width="0.5" />
<line x1="13.20" y1="239.60" x2="16.80" y2="241.70" stroke="#333" stroke-width="0.6" />
<line x1="13.20" y1="249.30" x2="16.80" y2="247.10" stroke="#333" stroke-width="0.6" />
<polyline points="26.40,241.70 31.30,238.90 36.30,241.70 40.60,239.10" fill="none" stroke="#333" stroke-width="0.6" stroke-linejoin="round" stroke-linecap="round" />
<text x="10.0" y="241.0" font-size="3.8" text-anchor="middle" font-weight="normal" font-style="normal" fill="#333" font-family='"Liberation Sans", sans-serif' transform="translate(10.0 241.0) scale(0.9 1) translate(-10.0 -241.0)"  stroke="#333" stroke-width="0.08">HO</text>
<text x="10.0" y="251.4" font-size="3.8" text-anchor="middle" font-weight="normal" font-style="normal" fill="#333" font-family='"Liberation Sans", sans-serif' transform="translate(10.0 251.4) scale(0.9 1) translate(-10.0 -251.4)"  stroke="#333" stroke-width="0.08">HO</text>
<text x="44.4" y="241.0" font-size="3.8" text-anchor="middle" font-weight="normal" font-style="normal" fill="#333" font-family='"Liberation Sans", sans-serif' transform="translate(44.4 241.0) scale(0.9 1) translate(-44.4 -241.0)"  stroke="#333" stroke-width="0.08">NH<tspan font-size="2.6" dy="0.8">2</tspan></text>
<text x="24.5" y="259.4" font-size="6.6" text-anchor="middle" font-weight="normal" font-style="italic" fill="#333" font-family='"Liberation Sans", sans-serif' transform="translate(24.5 259.4) scale(0.8 1) translate(-24.5 -259.4)" stroke="#333" stroke-width="0.2">Dopamine</text>
<polyline points="77.40,238.80 72.20,241.80 72.20,247.80 77.40,250.80 82.60,247.80 82.60,241.80 77.40,238.80" fill="none" stroke="#333" stroke-width="0.6" stroke-linejoin="round" stroke-linecap="round" />
<line x1="77.40" y1="240.48" x2="73.66" y2="242.64" stroke="#333" stroke-width="0.5" />
<line x1="81.14" y1="246.96" x2="81.14" y2="242.64" stroke="#333" stroke-width="0.5" />
<line x1="68.20" y1="240.40" x2="72.20" y2="241.80" stroke="#333" stroke-width="0.6" />
<line x1="68.20" y1="249.20" x2="72.20" y2="247.80" stroke="#333" stroke-width="0.6" />
<line x1="68.50" y1="241.20" x2="72.00" y2="242.60" stroke="#333" stroke-width="0.4" />
<polyline points="82.60,241.80 88.90,238.50 92.80,241.80 97.00,238.80" fill="none" stroke="#333" stroke-width="0.6" stroke-linejoin="round" stroke-linecap="round" />
<text x="66.4" y="241.4" font-size="3.8" text-anchor="middle" font-weight="normal" font-style="normal" fill="#333" font-family='"Liberation Sans", sans-serif'  stroke="#333" stroke-width="0.08">O</text>
<text x="66.4" y="251.2" font-size="3.8" text-anchor="middle" font-weight="normal" font-style="normal" fill="#333" font-family='"Liberation Sans", sans-serif'  stroke="#333" stroke-width="0.08">O</text>
<text x="97.5" y="240.8" font-size="3.8" text-anchor="start" font-weight="normal" font-style="normal" fill="#333" font-family='"Liberation Sans", sans-serif' transform="translate(97.5 240.8) scale(0.9 1) translate(-97.5 -240.8)"  stroke="#333" stroke-width="0.08">NH</text>
<text x="80.0" y="259.4" font-size="6.6" text-anchor="middle" font-weight="normal" font-style="italic" fill="#333" font-family='"Liberation Sans", sans-serif' transform="translate(80.0 259.4) scale(0.74 1) translate(-80.0 -259.4)" stroke="#333" stroke-width="0.2">Dopamine-o-quinone</text>
<defs><linearGradient id="slabtop" gradientUnits="userSpaceOnUse" x1="20" y1="270" x2="100" y2="285"><stop offset="0" stop-color="#d6d6d8"/><stop offset="0.5" stop-color="#e6e6e8"/><stop offset="1" stop-color="#dadadc"/></linearGradient></defs>
<polygon points="19.30,276.60 81.10,267.40 105.50,280.60 42.60,289.60" fill="url(#slabtop)" stroke="none" stroke-width="1" />
<polygon points="19.30,276.60 42.60,289.60 42.60,293.20 19.30,280.20" fill="#a2a2a4" stroke="none" stroke-width="1" />
<polygon points="42.60,289.60 105.50,280.60 105.50,283.60 42.60,293.20" fill="#b8b8bb" stroke="none" stroke-width="1" />
<polygon points="38.50,274.00 80.60,268.00 80.10,284.20 47.00,288.20" fill="#ececee" stroke="none" stroke-width="1" />
<polygon points="81.10,267.40 105.50,280.60 80.10,284.20" fill="#b4b4ba" stroke="none" stroke-width="1" />
<line x1="63.20" y1="272.40" x2="81.10" y2="270.40" stroke="#efd79a" stroke-width="0.9" />
<line x1="63.20" y1="276.00" x2="87.60" y2="273.80" stroke="#efd79a" stroke-width="0.9" />
<line x1="63.20" y1="280.20" x2="95.00" y2="278.60" stroke="#efd79a" stroke-width="0.9" />
<polygon points="81.00,268.10 86.60,269.70 86.60,271.10 81.00,269.50" fill="#f0c018" stroke="none" stroke-width="1" />
<polygon points="87.60,272.30 93.20,274.10 93.20,275.50 87.60,273.70" fill="#f0c018" stroke="none" stroke-width="1" />
<polygon points="94.80,276.90 100.80,278.90 100.80,280.30 94.80,278.30" fill="#f0c018" stroke="none" stroke-width="1" />
<polygon points="39.20,274.60 59.80,271.60 62.50,281.60 44.40,284.60" fill="#f8f8f8" stroke="#d4d4d4" stroke-width="0.3" />
<polygon points="44.40,278.60 59.90,276.60 59.90,283.00 44.40,285.00" fill="#e2e2e4" stroke="none" stroke-width="1" />
<polygon points="46.80,276.00 53.90,275.00 54.20,276.80 47.10,277.80" fill="#f2c218" stroke="none" stroke-width="1" />
<defs><linearGradient id="rag" gradientUnits="userSpaceOnUse" x1="28" y1="0" x2="78" y2="0"><stop offset="0" stop-color="#8a1028"/><stop offset="0.45" stop-color="#a42a40"/><stop offset="0.62" stop-color="#c86a78"/><stop offset="0.8" stop-color="#9a1a34"/><stop offset="1" stop-color="#8a1028"/></linearGradient></defs>
<path d="M30.2,261.6 C32.5,270.5 41,275.2 52,275.3 C62.5,275.4 70,271.2 74.4,265.4" fill="none" stroke="url(#rag)" stroke-width="3.0" stroke-linecap="butt" fill="none"/>
<polygon points="71.20,265.20 77.80,261.40 76.90,268.40" fill="#8a1028" stroke="none" stroke-width="1" />
<rect x="39.9" y="256.8" width="2.4" height="19.0" fill="#fbfbfb" stroke="#cdcdcd" stroke-width="0.4" />
<rect x="59.9" y="268.6" width="2.3" height="16.2" fill="#fbfbfb" stroke="#cdcdcd" stroke-width="0.4" />
<g transform="translate(48.3 249.4) rotate(-55)"><line x1="-9.8" y1="0" x2="0" y2="0" stroke="#3a68b8" stroke-width="0.7"/><polygon points="0,-1.6 3,-1.6 3,1.6 0,1.6 -1.2,0" fill="#2a5ab0"/><rect x="3" y="-1.8" width="15.5" height="3.6" fill="#ffffff" stroke="#3a68b8" stroke-width="0.7"/><line x1="4.5" y1="0" x2="16" y2="0" stroke="#bcd0ee" stroke-width="1.3"/><line x1="18.6" y1="-2.8" x2="18.6" y2="2.8" stroke="#3a68b8" stroke-width="0.9"/><line x1="18.6" y1="0" x2="24.5" y2="0" stroke="#3a68b8" stroke-width="1.1"/><line x1="24.5" y1="-2.2" x2="24.5" y2="2.2" stroke="#3a68b8" stroke-width="1.1"/></g>
<defs><linearGradient id="dg" x1="0" y1="0" x2="0" y2="1"><stop offset="0" stop-color="#e4e4e4"/><stop offset="1" stop-color="#cfcfcf"/></linearGradient></defs>
<rect x="114.8" y="233.3" width="53.4" height="48.7" fill="url(#dg)" stroke="#8c8c8c" stroke-width="0.7" rx="8" ry="8"/>
<line x1="123.20" y1="238.00" x2="123.20" y2="275.00" stroke="#222" stroke-width="0.8" />
<line x1="122.80" y1="274.80" x2="163.50" y2="274.80" stroke="#222" stroke-width="0.8" />
<polyline points="123.80,239.00 124.80,242.90 125.80,244.99 126.80,246.11 127.80,246.71 128.80,247.03 129.80,247.20 130.80,247.29 131.80,247.34 132.80,247.37 133.80,247.38 134.80,247.39 135.80,247.40 136.80,247.40 137.80,247.40 138.80,247.40 139.80,247.40 140.80,247.40 141.80,247.40 142.80,247.40 143.80,247.40 144.80,247.40 145.80,247.40 146.80,247.40 147.80,247.40 148.80,247.40 149.80,247.40 150.80,247.40 151.80,247.40 152.80,247.40 153.80,247.40 154.80,247.40 155.80,247.40 156.80,247.40 157.80,247.40 158.80,247.40 159.80,247.40 160.80,247.40 161.80,247.40 162.80,247.40 163.80,247.40" fill="none" stroke="#a9c4ea" stroke-width="1.8" stroke-linejoin="round" stroke-linecap="round" />
<polyline points="123.80,251.50 124.80,254.61 125.80,256.28 126.80,257.17 127.80,257.65 128.80,257.91 129.80,258.04 130.80,258.12 131.80,258.15 132.80,258.18 133.80,258.19 134.80,258.19 135.80,258.20 136.80,258.20 137.80,258.20 138.80,258.20 139.80,258.20 140.80,258.20 141.80,258.20 142.80,258.20 143.80,258.20 144.80,258.20 145.80,258.20 146.80,258.20 147.80,258.20 148.80,258.20 149.80,258.20 150.80,258.20 151.80,258.20 152.80,258.20 153.80,258.20 154.80,258.20 155.80,258.20 156.80,258.20 157.80,258.20 158.80,258.20 159.80,258.20 160.80,258.20 161.80,258.20 162.80,258.20 163.80,258.20" fill="none" stroke="#2d4a8e" stroke-width="1.8" stroke-linejoin="round" stroke-linecap="round" />
<polyline points="123.80,265.00 124.80,268.39 125.80,270.21 126.80,271.18 127.80,271.70 128.80,271.98 129.80,272.13 130.80,272.21 131.80,272.25 132.80,272.27 133.80,272.29 134.80,272.29 135.80,272.30 136.80,272.30 137.80,272.30 138.80,272.30 139.80,272.30 140.80,272.30 141.80,272.30 142.80,272.30 143.80,272.30 144.80,272.30 145.80,272.30 146.80,272.30 147.80,272.30 148.80,272.30 149.80,272.30 150.80,272.30 151.80,272.30 152.80,272.30 153.80,272.30 154.80,272.30 155.80,272.30 156.80,272.30 157.80,272.30 158.80,272.30 159.80,272.30 160.80,272.30 161.80,272.30 162.80,272.30 163.80,272.30" fill="none" stroke="#c8141e" stroke-width="1.8" stroke-linejoin="round" stroke-linecap="round" />
<text x="148.6" y="238.8" font-size="5.0" text-anchor="middle" font-weight="normal" font-style="italic" fill="#333" font-family='"Liberation Sans", sans-serif' transform="translate(148.6 238.8) scale(0.85 1) translate(-148.6 -238.8)" stroke="#333" stroke-width="0.1">Parkinson's</text>
<text x="148.4" y="244.6" font-size="5.0" text-anchor="middle" font-weight="normal" font-style="italic" fill="#333" font-family='"Liberation Sans", sans-serif' transform="translate(148.4 244.6) scale(0.85 1) translate(-148.4 -244.6)" stroke="#333" stroke-width="0.1">disease</text>
<text x="149.6" y="256.6" font-size="5.0" text-anchor="middle" font-weight="normal" font-style="italic" fill="#333" font-family='"Liberation Sans", sans-serif' transform="translate(149.6 256.6) scale(0.85 1) translate(-149.6 -256.6)" stroke="#333" stroke-width="0.1">Healthy</text>
<text x="148.2" y="270.6" font-size="5.0" text-anchor="middle" font-weight="normal" font-style="italic" fill="#333" font-family='"Liberation Sans", sans-serif' transform="translate(148.2 270.6) scale(0.85 1) translate(-148.2 -270.6)" stroke="#333" stroke-width="0.1">L-Dopa</text>
<text x="142.4" y="280.6" font-size="5.4" text-anchor="middle" font-weight="normal" font-style="normal" fill="#333" font-family='"Liberation Sans", sans-serif' transform="translate(142.4 280.6) scale(0.8 1) translate(-142.4 -280.6)" stroke="#333" stroke-width="0.1">Time</text>
<text x="0" y="0" font-size="5.4" text-anchor="middle" fill="#333" font-style="normal" font-family='"Liberation Sans", sans-serif' transform="translate(120.2 257.6) rotate(-90) scale(0.8 1)" stroke="#333" stroke-width="0.1">Current</text>
<text x="180.3" y="164.55" font-size="7.6" text-anchor="start" font-weight="bold" font-style="normal" fill="#111" font-family='"Liberation Sans", sans-serif' >(e)</text>
<line x1="215.00" y1="265.60" x2="213.00" y2="265.60" stroke="#555" stroke-width="0.6" />
<line x1="215.00" y1="259.38" x2="213.80" y2="259.38" stroke="#555" stroke-width="0.6" />
<text x="212.8" y="268.20000000000005" font-size="7.2" text-anchor="end" font-weight="normal" font-style="normal" fill="#222" font-family='"Liberation Sans", sans-serif'  stroke="#222" stroke-width="0.14">0</text>
<line x1="215.00" y1="253.15" x2="213.00" y2="253.15" stroke="#555" stroke-width="0.6" />
<line x1="215.00" y1="246.93" x2="213.80" y2="246.93" stroke="#555" stroke-width="0.6" />
<text x="212.8" y="255.75000000000003" font-size="7.2" text-anchor="end" font-weight="normal" font-style="normal" fill="#222" font-family='"Liberation Sans", sans-serif'  stroke="#222" stroke-width="0.14">1</text>
<line x1="215.00" y1="240.70" x2="213.00" y2="240.70" stroke="#555" stroke-width="0.6" />
<line x1="215.00" y1="234.48" x2="213.80" y2="234.48" stroke="#555" stroke-width="0.6" />
<text x="212.8" y="243.3" font-size="7.2" text-anchor="end" font-weight="normal" font-style="normal" fill="#222" font-family='"Liberation Sans", sans-serif'  stroke="#222" stroke-width="0.14">2</text>
<line x1="215.00" y1="228.25" x2="213.00" y2="228.25" stroke="#555" stroke-width="0.6" />
<line x1="215.00" y1="222.03" x2="213.80" y2="222.03" stroke="#555" stroke-width="0.6" />
<text x="212.8" y="230.85000000000002" font-size="7.2" text-anchor="end" font-weight="normal" font-style="normal" fill="#222" font-family='"Liberation Sans", sans-serif'  stroke="#222" stroke-width="0.14">3</text>
<line x1="215.00" y1="215.80" x2="213.00" y2="215.80" stroke="#555" stroke-width="0.6" />
<line x1="215.00" y1="209.58" x2="213.80" y2="209.58" stroke="#555" stroke-width="0.6" />
<text x="212.8" y="218.4" font-size="7.2" text-anchor="end" font-weight="normal" font-style="normal" fill="#222" font-family='"Liberation Sans", sans-serif'  stroke="#222" stroke-width="0.14">4</text>
<line x1="215.00" y1="203.35" x2="213.00" y2="203.35" stroke="#555" stroke-width="0.6" />
<line x1="215.00" y1="197.13" x2="213.80" y2="197.13" stroke="#555" stroke-width="0.6" />
<text x="212.8" y="205.95000000000002" font-size="7.2" text-anchor="end" font-weight="normal" font-style="normal" fill="#222" font-family='"Liberation Sans", sans-serif'  stroke="#222" stroke-width="0.14">5</text>
<line x1="215.00" y1="190.90" x2="213.00" y2="190.90" stroke="#555" stroke-width="0.6" />
<line x1="215.00" y1="184.68" x2="213.80" y2="184.68" stroke="#555" stroke-width="0.6" />
<text x="212.8" y="193.50000000000003" font-size="7.2" text-anchor="end" font-weight="normal" font-style="normal" fill="#222" font-family='"Liberation Sans", sans-serif'  stroke="#222" stroke-width="0.14">6</text>
<line x1="215.00" y1="178.45" x2="213.00" y2="178.45" stroke="#555" stroke-width="0.6" />
<line x1="215.00" y1="172.23" x2="213.80" y2="172.23" stroke="#555" stroke-width="0.6" />
<text x="212.8" y="181.05000000000004" font-size="7.2" text-anchor="end" font-weight="normal" font-style="normal" fill="#222" font-family='"Liberation Sans", sans-serif'  stroke="#222" stroke-width="0.14">7</text>
<line x1="215.00" y1="166.00" x2="213.00" y2="166.00" stroke="#555" stroke-width="0.6" />
<text x="212.8" y="168.60000000000002" font-size="7.2" text-anchor="end" font-weight="normal" font-style="normal" fill="#222" font-family='"Liberation Sans", sans-serif'  stroke="#222" stroke-width="0.14">8</text>
<line x1="215.00" y1="271.83" x2="213.80" y2="271.83" stroke="#555" stroke-width="0.6" />
<line x1="221.30" y1="272.30" x2="221.30" y2="274.30" stroke="#555" stroke-width="0.6" />
<line x1="232.62" y1="272.30" x2="232.62" y2="273.50" stroke="#555" stroke-width="0.6" />
<text x="221.3" y="281.1" font-size="7" text-anchor="middle" font-weight="normal" font-style="normal" fill="#222" font-family='"Liberation Sans", sans-serif'  stroke="#222" stroke-width="0.14">0</text>
<line x1="243.94" y1="272.30" x2="243.94" y2="274.30" stroke="#555" stroke-width="0.6" />
<line x1="255.26" y1="272.30" x2="255.26" y2="273.50" stroke="#555" stroke-width="0.6" />
<text x="243.94" y="281.1" font-size="7" text-anchor="middle" font-weight="normal" font-style="normal" fill="#222" font-family='"Liberation Sans", sans-serif'  stroke="#222" stroke-width="0.14">200</text>
<line x1="266.58" y1="272.30" x2="266.58" y2="274.30" stroke="#555" stroke-width="0.6" />
<line x1="277.90" y1="272.30" x2="277.90" y2="273.50" stroke="#555" stroke-width="0.6" />
<text x="266.58000000000004" y="281.1" font-size="7" text-anchor="middle" font-weight="normal" font-style="normal" fill="#222" font-family='"Liberation Sans", sans-serif'  stroke="#222" stroke-width="0.14">400</text>
<line x1="289.22" y1="272.30" x2="289.22" y2="274.30" stroke="#555" stroke-width="0.6" />
<line x1="300.54" y1="272.30" x2="300.54" y2="273.50" stroke="#555" stroke-width="0.6" />
<text x="289.22" y="281.1" font-size="7" text-anchor="middle" font-weight="normal" font-style="normal" fill="#222" font-family='"Liberation Sans", sans-serif'  stroke="#222" stroke-width="0.14">600</text>
<line x1="311.86" y1="272.30" x2="311.86" y2="274.30" stroke="#555" stroke-width="0.6" />
<line x1="323.18" y1="272.30" x2="323.18" y2="273.50" stroke="#555" stroke-width="0.6" />
<text x="311.86" y="281.1" font-size="7" text-anchor="middle" font-weight="normal" font-style="normal" fill="#222" font-family='"Liberation Sans", sans-serif'  stroke="#222" stroke-width="0.14">800</text>
<line x1="334.50" y1="272.30" x2="334.50" y2="274.30" stroke="#555" stroke-width="0.6" />
<line x1="345.82" y1="272.30" x2="345.82" y2="273.50" stroke="#555" stroke-width="0.6" />
<text x="334.5" y="281.1" font-size="7" text-anchor="middle" font-weight="normal" font-style="normal" fill="#222" font-family='"Liberation Sans", sans-serif'  stroke="#222" stroke-width="0.14">1000</text>
<text x="280.7" y="293.0" font-size="7" text-anchor="middle" font-weight="normal" font-style="normal" fill="#222" font-family='"Liberation Sans", sans-serif'  stroke="#222" stroke-width="0.14">Dopamine (nM)</text>
<text x="204.8" y="222.3" font-size="7.4" text-anchor="middle" font-weight="normal" font-style="normal" fill="#222" font-family='"Liberation Sans", sans-serif' transform="rotate(-90 204.8 222.3)"  stroke="#222" stroke-width="0.14">ΔCurrent (μA)</text>
<line x1="221.30" y1="265.60" x2="334.50" y2="188.41" stroke="#555" stroke-width="0.9" />
<line x1="221.30" y1="265.60" x2="334.50" y2="221.78" stroke="#a01818" stroke-width="1.0" />
<line x1="221.30" y1="266.22" x2="221.30" y2="264.98" stroke="#333" stroke-width="0.6" />
<line x1="220.10" y1="264.98" x2="222.50" y2="264.98" stroke="#333" stroke-width="0.6" />
<line x1="220.10" y1="266.22" x2="222.50" y2="266.22" stroke="#333" stroke-width="0.6" />
<circle cx="221.30" cy="265.60" r="1.6" fill="#444"/>
<line x1="226.96" y1="263.11" x2="226.96" y2="260.62" stroke="#333" stroke-width="0.6" />
<line x1="225.76" y1="260.62" x2="228.16" y2="260.62" stroke="#333" stroke-width="0.6" />
<line x1="225.76" y1="263.11" x2="228.16" y2="263.11" stroke="#333" stroke-width="0.6" />
<circle cx="226.96" cy="261.87" r="1.6" fill="#444"/>
<line x1="249.60" y1="248.17" x2="249.60" y2="245.18" stroke="#333" stroke-width="0.6" />
<line x1="248.40" y1="245.18" x2="250.80" y2="245.18" stroke="#333" stroke-width="0.6" />
<line x1="248.40" y1="248.17" x2="250.80" y2="248.17" stroke="#333" stroke-width="0.6" />
<circle cx="249.60" cy="246.68" r="1.6" fill="#444"/>
<line x1="277.90" y1="228.87" x2="277.90" y2="225.14" stroke="#333" stroke-width="0.6" />
<line x1="276.70" y1="225.14" x2="279.10" y2="225.14" stroke="#333" stroke-width="0.6" />
<line x1="276.70" y1="228.87" x2="279.10" y2="228.87" stroke="#333" stroke-width="0.6" />
<circle cx="277.90" cy="227.01" r="1.6" fill="#444"/>
<line x1="306.20" y1="207.83" x2="306.20" y2="204.10" stroke="#333" stroke-width="0.6" />
<line x1="305.00" y1="204.10" x2="307.40" y2="204.10" stroke="#333" stroke-width="0.6" />
<line x1="305.00" y1="207.83" x2="307.40" y2="207.83" stroke="#333" stroke-width="0.6" />
<circle cx="306.20" cy="205.96" r="1.6" fill="#444"/>
<line x1="334.50" y1="190.40" x2="334.50" y2="186.67" stroke="#333" stroke-width="0.6" />
<line x1="333.30" y1="186.67" x2="335.70" y2="186.67" stroke="#333" stroke-width="0.6" />
<line x1="333.30" y1="190.40" x2="335.70" y2="190.40" stroke="#333" stroke-width="0.6" />
<circle cx="334.50" cy="188.53" r="1.6" fill="#444"/>
<rect x="219.9" y="264.20000000000005" width="2.8" height="2.8" fill="#a01818" stroke="none" stroke-width="1" />
<rect x="225.56" y="262.33250000000004" width="2.8" height="2.8" fill="#a01818" stroke="none" stroke-width="1" />
<rect x="248.20000000000002" y="252.37250000000003" width="2.8" height="2.8" fill="#a01818" stroke="none" stroke-width="1" />
<rect x="276.5" y="242.03900000000002" width="2.8" height="2.8" fill="#a01818" stroke="none" stroke-width="1" />
<rect x="304.8" y="231.83" width="2.8" height="2.8" fill="#a01818" stroke="none" stroke-width="1" />
<rect x="333.1" y="220.376" width="2.8" height="2.8" fill="#a01818" stroke="none" stroke-width="1" />
<text x="323.3" y="178.1" font-size="5.6" text-anchor="middle" font-weight="normal" font-style="normal" fill="#222" font-family='"Liberation Sans", sans-serif'  stroke="#222" stroke-width="0.08">PBS</text>
<text x="322.2" y="213.2" font-size="5.6" text-anchor="middle" font-weight="normal" font-style="normal" fill="#222" font-family='"Liberation Sans", sans-serif'  stroke="#222" stroke-width="0.08">aCSF</text>
<path d="M218.6 258.5 L218.6 236.6 L216.8 236.6 L222 227.3 L227.3 236.6 L224.7 236.6 L224.7 258.5" fill="none" stroke="#6d7fc8" stroke-width="0.6" stroke-dasharray="1.2 0.9" fill="none"/>
<rect x="217.3" y="258.7" width="7.3" height="10.5" fill="none" stroke="#6d7fc8" stroke-width="0.6" stroke-dasharray="1.2 0.9"/>
<rect x="224.3" y="167.0" width="60.099999999999966" height="49.599999999999994" fill="#fff" stroke="#666" stroke-width="0.5" />
<line x1="224.30" y1="214.80" x2="225.30" y2="214.80" stroke="#666" stroke-width="0.4" />
<text x="223.2" y="216.20000000000002" font-size="3.9" text-anchor="end" font-weight="normal" font-style="normal" fill="#333" font-family='"Liberation Sans", sans-serif'  stroke="#333" stroke-width="0.08">0</text>
<line x1="224.30" y1="208.23" x2="225.30" y2="208.23" stroke="#666" stroke-width="0.4" />
<text x="223.2" y="209.63000000000002" font-size="3.9" text-anchor="end" font-weight="normal" font-style="normal" fill="#333" font-family='"Liberation Sans", sans-serif'  stroke="#333" stroke-width="0.08">1</text>
<line x1="224.30" y1="201.66" x2="225.30" y2="201.66" stroke="#666" stroke-width="0.4" />
<text x="223.2" y="203.06000000000003" font-size="3.9" text-anchor="end" font-weight="normal" font-style="normal" fill="#333" font-family='"Liberation Sans", sans-serif'  stroke="#333" stroke-width="0.08">2</text>
<line x1="224.30" y1="195.09" x2="225.30" y2="195.09" stroke="#666" stroke-width="0.4" />
<text x="223.2" y="196.49" font-size="3.9" text-anchor="end" font-weight="normal" font-style="normal" fill="#333" font-family='"Liberation Sans", sans-serif'  stroke="#333" stroke-width="0.08">3</text>
<line x1="224.30" y1="188.52" x2="225.30" y2="188.52" stroke="#666" stroke-width="0.4" />
<text x="223.2" y="189.92000000000002" font-size="3.9" text-anchor="end" font-weight="normal" font-style="normal" fill="#333" font-family='"Liberation Sans", sans-serif'  stroke="#333" stroke-width="0.08">4</text>
<line x1="224.30" y1="181.95" x2="225.30" y2="181.95" stroke="#666" stroke-width="0.4" />
<text x="223.2" y="183.35000000000002" font-size="3.9" text-anchor="end" font-weight="normal" font-style="normal" fill="#333" font-family='"Liberation Sans", sans-serif'  stroke="#333" stroke-width="0.08">5</text>
<line x1="224.30" y1="175.38" x2="225.30" y2="175.38" stroke="#666" stroke-width="0.4" />
<text x="223.2" y="176.78" font-size="3.9" text-anchor="end" font-weight="normal" font-style="normal" fill="#333" font-family='"Liberation Sans", sans-serif'  stroke="#333" stroke-width="0.08">6</text>
<line x1="224.30" y1="168.81" x2="225.30" y2="168.81" stroke="#666" stroke-width="0.4" />
<text x="223.2" y="170.21" font-size="3.9" text-anchor="end" font-weight="normal" font-style="normal" fill="#333" font-family='"Liberation Sans", sans-serif'  stroke="#333" stroke-width="0.08">7</text>
<line x1="233.80" y1="216.60" x2="233.80" y2="215.60" stroke="#666" stroke-width="0.4" />
<text x="233.79999999999998" y="221.0" font-size="4.0" text-anchor="middle" font-weight="normal" font-style="normal" fill="#333" font-family='"Liberation Sans", sans-serif' letter-spacing="0.3"  stroke="#333" stroke-width="0.08">0.2</text>
<line x1="245.00" y1="216.60" x2="245.00" y2="215.60" stroke="#666" stroke-width="0.4" />
<text x="245.0" y="221.0" font-size="4.0" text-anchor="middle" font-weight="normal" font-style="normal" fill="#333" font-family='"Liberation Sans", sans-serif' letter-spacing="0.3"  stroke="#333" stroke-width="0.08">0.4</text>
<line x1="256.20" y1="216.60" x2="256.20" y2="215.60" stroke="#666" stroke-width="0.4" />
<text x="256.2" y="221.0" font-size="4.0" text-anchor="middle" font-weight="normal" font-style="normal" fill="#333" font-family='"Liberation Sans", sans-serif' letter-spacing="0.3"  stroke="#333" stroke-width="0.08">0.6</text>
<line x1="267.40" y1="216.60" x2="267.40" y2="215.60" stroke="#666" stroke-width="0.4" />
<text x="267.4" y="221.0" font-size="4.0" text-anchor="middle" font-weight="normal" font-style="normal" fill="#333" font-family='"Liberation Sans", sans-serif' letter-spacing="0.3"  stroke="#333" stroke-width="0.08">0.8</text>
<line x1="278.60" y1="216.60" x2="278.60" y2="215.60" stroke="#666" stroke-width="0.4" />
<text x="278.6" y="221.0" font-size="4.0" text-anchor="middle" font-weight="normal" font-style="normal" fill="#333" font-family='"Liberation Sans", sans-serif' letter-spacing="0.3"  stroke="#333" stroke-width="0.08">1.0</text>
<text x="253.6" y="225.3" font-size="4.1" text-anchor="middle" font-weight="normal" font-style="normal" fill="#333" font-family='"Liberation Sans", sans-serif'  stroke="#333" stroke-width="0.08">Dopamine (nM)</text>
<text x="220.6" y="193.4" font-size="3.8" text-anchor="middle" font-weight="normal" font-style="normal" fill="#333" font-family='"Liberation Sans", sans-serif' transform="rotate(-90 220.6 193.4)"  stroke="#333" stroke-width="0.08">ΔCurrent (nA)</text>
<line x1="228.20" y1="211.32" x2="278.60" y2="174.33" stroke="#666" stroke-width="0.5" />
<line x1="228.20" y1="212.30" x2="278.60" y2="191.21" stroke="#a01818" stroke-width="0.7" />
<line x1="228.20" y1="212.63" x2="228.20" y2="210.00" stroke="#555" stroke-width="0.4" stroke-dasharray="0.8 0.6"/>
<line x1="227.40" y1="210.00" x2="229.00" y2="210.00" stroke="#555" stroke-width="0.4" />
<line x1="227.40" y1="212.63" x2="229.00" y2="212.63" stroke="#555" stroke-width="0.4" />
<circle cx="228.20" cy="211.32" r="0.8" fill="#555"/>
<line x1="236.60" y1="206.59" x2="236.60" y2="202.65" stroke="#555" stroke-width="0.4" stroke-dasharray="0.8 0.6"/>
<line x1="235.80" y1="202.65" x2="237.40" y2="202.65" stroke="#555" stroke-width="0.4" />
<line x1="235.80" y1="206.59" x2="237.40" y2="206.59" stroke="#555" stroke-width="0.4" />
<circle cx="236.60" cy="204.62" r="0.8" fill="#555"/>
<line x1="250.60" y1="197.32" x2="250.60" y2="192.07" stroke="#555" stroke-width="0.4" stroke-dasharray="0.8 0.6"/>
<line x1="249.80" y1="192.07" x2="251.40" y2="192.07" stroke="#555" stroke-width="0.4" />
<line x1="249.80" y1="197.32" x2="251.40" y2="197.32" stroke="#555" stroke-width="0.4" />
<circle cx="250.60" cy="194.70" r="0.8" fill="#555"/>
<line x1="264.60" y1="192.59" x2="264.60" y2="176.83" stroke="#555" stroke-width="0.4" stroke-dasharray="0.8 0.6"/>
<line x1="263.80" y1="176.83" x2="265.40" y2="176.83" stroke="#555" stroke-width="0.4" />
<line x1="263.80" y1="192.59" x2="265.40" y2="192.59" stroke="#555" stroke-width="0.4" />
<circle cx="264.60" cy="184.71" r="0.8" fill="#555"/>
<line x1="278.60" y1="180.24" x2="278.60" y2="168.42" stroke="#555" stroke-width="0.4" stroke-dasharray="0.8 0.6"/>
<line x1="277.80" y1="168.42" x2="279.40" y2="168.42" stroke="#555" stroke-width="0.4" />
<line x1="277.80" y1="180.24" x2="279.40" y2="180.24" stroke="#555" stroke-width="0.4" />
<circle cx="278.60" cy="174.33" r="0.8" fill="#555"/>
<line x1="228.20" y1="212.96" x2="228.20" y2="211.65" stroke="#a01818" stroke-width="0.4" />
<circle cx="228.20" cy="212.30" r="0.9" fill="#a01818"/>
<line x1="236.60" y1="209.81" x2="236.60" y2="207.84" stroke="#a01818" stroke-width="0.4" />
<circle cx="236.60" cy="208.82" r="0.9" fill="#a01818"/>
<line x1="250.60" y1="203.76" x2="250.60" y2="201.79" stroke="#a01818" stroke-width="0.4" />
<circle cx="250.60" cy="202.78" r="0.9" fill="#a01818"/>
<line x1="264.60" y1="197.59" x2="264.60" y2="194.96" stroke="#a01818" stroke-width="0.4" />
<circle cx="264.60" cy="196.27" r="0.9" fill="#a01818"/>
<line x1="278.60" y1="193.84" x2="278.60" y2="188.59" stroke="#a01818" stroke-width="0.4" />
<circle cx="278.60" cy="191.21" r="0.9" fill="#a01818"/>
<text x="270.2" y="175.2" font-size="4.8" text-anchor="middle" font-weight="normal" font-style="normal" fill="#333" font-family='"Liberation Sans", sans-serif'  stroke="#333" stroke-width="0.08">PBS</text>
<text x="274.0" y="201.6" font-size="4.8" text-anchor="middle" font-weight="normal" font-style="normal" fill="#333" font-family='"Liberation Sans", sans-serif'  stroke="#333" stroke-width="0.08">aCSF</text>
<rect x="215.0" y="165.8" width="131.0" height="106.5" fill="none" stroke="#555" stroke-width="0.8" />
<text x="357.1" y="163.65" font-size="7.6" text-anchor="start" font-weight="bold" font-style="normal" fill="#111" font-family='"Liberation Sans", sans-serif' >(f)</text>
<line x1="388.70" y1="169.60" x2="386.70" y2="169.60" stroke="#555" stroke-width="0.6" />
<line x1="388.70" y1="176.96" x2="387.50" y2="176.96" stroke="#555" stroke-width="0.6" />
<text x="384.0" y="172.1" font-size="7" text-anchor="end" font-weight="normal" font-style="normal" fill="#222" font-family='"Liberation Sans", sans-serif'  stroke="#222" stroke-width="0.14">0.0</text>
<line x1="388.70" y1="184.32" x2="386.70" y2="184.32" stroke="#555" stroke-width="0.6" />
<line x1="388.70" y1="191.69" x2="387.50" y2="191.69" stroke="#555" stroke-width="0.6" />
<text x="384.0" y="186.825" font-size="7" text-anchor="end" font-weight="normal" font-style="normal" fill="#222" font-family='"Liberation Sans", sans-serif'  stroke="#222" stroke-width="0.14">-0.5</text>
<line x1="388.70" y1="199.05" x2="386.70" y2="199.05" stroke="#555" stroke-width="0.6" />
<line x1="388.70" y1="206.41" x2="387.50" y2="206.41" stroke="#555" stroke-width="0.6" />
<text x="384.0" y="201.54999999999998" font-size="7" text-anchor="end" font-weight="normal" font-style="normal" fill="#222" font-family='"Liberation Sans", sans-serif'  stroke="#222" stroke-width="0.14">-1.0</text>
<line x1="388.70" y1="213.77" x2="386.70" y2="213.77" stroke="#555" stroke-width="0.6" />
<line x1="388.70" y1="221.14" x2="387.50" y2="221.14" stroke="#555" stroke-width="0.6" />
<text x="384.0" y="216.27499999999998" font-size="7" text-anchor="end" font-weight="normal" font-style="normal" fill="#222" font-family='"Liberation Sans", sans-serif'  stroke="#222" stroke-width="0.14">-1.5</text>
<line x1="388.70" y1="228.50" x2="386.70" y2="228.50" stroke="#555" stroke-width="0.6" />
<line x1="388.70" y1="235.86" x2="387.50" y2="235.86" stroke="#555" stroke-width="0.6" />
<text x="384.0" y="231.0" font-size="7" text-anchor="end" font-weight="normal" font-style="normal" fill="#222" font-family='"Liberation Sans", sans-serif'  stroke="#222" stroke-width="0.14">-2.0</text>
<line x1="388.70" y1="243.22" x2="386.70" y2="243.22" stroke="#555" stroke-width="0.6" />
<line x1="388.70" y1="250.59" x2="387.50" y2="250.59" stroke="#555" stroke-width="0.6" />
<text x="384.0" y="245.725" font-size="7" text-anchor="end" font-weight="normal" font-style="normal" fill="#222" font-family='"Liberation Sans", sans-serif'  stroke="#222" stroke-width="0.14">-2.5</text>
<line x1="388.70" y1="257.95" x2="386.70" y2="257.95" stroke="#555" stroke-width="0.6" />
<line x1="388.70" y1="265.31" x2="387.50" y2="265.31" stroke="#555" stroke-width="0.6" />
<text x="384.0" y="260.45" font-size="7" text-anchor="end" font-weight="normal" font-style="normal" fill="#222" font-family='"Liberation Sans", sans-serif'  stroke="#222" stroke-width="0.14">-3.0</text>
<line x1="388.70" y1="272.68" x2="386.70" y2="272.68" stroke="#555" stroke-width="0.6" />
<text x="384.0" y="275.175" font-size="7" text-anchor="end" font-weight="normal" font-style="normal" fill="#222" font-family='"Liberation Sans", sans-serif'  stroke="#222" stroke-width="0.14">-3.5</text>
<line x1="389.50" y1="275.20" x2="389.50" y2="277.20" stroke="#555" stroke-width="0.6" />
<line x1="403.12" y1="275.20" x2="403.12" y2="276.40" stroke="#555" stroke-width="0.6" />
<text x="389.5" y="285.0" font-size="7" text-anchor="middle" font-weight="normal" font-style="normal" fill="#222" font-family='"Liberation Sans", sans-serif'  stroke="#222" stroke-width="0.14">0</text>
<line x1="416.74" y1="275.20" x2="416.74" y2="277.20" stroke="#555" stroke-width="0.6" />
<line x1="430.36" y1="275.20" x2="430.36" y2="276.40" stroke="#555" stroke-width="0.6" />
<text x="416.74" y="285.0" font-size="7" text-anchor="middle" font-weight="normal" font-style="normal" fill="#222" font-family='"Liberation Sans", sans-serif'  stroke="#222" stroke-width="0.14">10</text>
<line x1="443.98" y1="275.20" x2="443.98" y2="277.20" stroke="#555" stroke-width="0.6" />
<line x1="457.60" y1="275.20" x2="457.60" y2="276.40" stroke="#555" stroke-width="0.6" />
<text x="443.98" y="285.0" font-size="7" text-anchor="middle" font-weight="normal" font-style="normal" fill="#222" font-family='"Liberation Sans", sans-serif'  stroke="#222" stroke-width="0.14">20</text>
<line x1="471.22" y1="275.20" x2="471.22" y2="277.20" stroke="#555" stroke-width="0.6" />
<line x1="484.84" y1="275.20" x2="484.84" y2="276.40" stroke="#555" stroke-width="0.6" />
<text x="471.22" y="285.0" font-size="7" text-anchor="middle" font-weight="normal" font-style="normal" fill="#222" font-family='"Liberation Sans", sans-serif'  stroke="#222" stroke-width="0.14">30</text>
<line x1="498.46" y1="275.20" x2="498.46" y2="277.20" stroke="#555" stroke-width="0.6" />
<line x1="512.08" y1="275.20" x2="512.08" y2="276.40" stroke="#555" stroke-width="0.6" />
<text x="498.46000000000004" y="285.0" font-size="7" text-anchor="middle" font-weight="normal" font-style="normal" fill="#222" font-family='"Liberation Sans", sans-serif'  stroke="#222" stroke-width="0.14">40</text>
<line x1="525.70" y1="275.20" x2="525.70" y2="277.20" stroke="#555" stroke-width="0.6" />
<text x="525.7" y="285.0" font-size="7" text-anchor="middle" font-weight="normal" font-style="normal" fill="#222" font-family='"Liberation Sans", sans-serif'  stroke="#222" stroke-width="0.14">50</text>
<text x="461.2" y="296.4" font-size="7.8" text-anchor="middle" font-weight="normal" font-style="normal" fill="#222" font-family='"Liberation Sans", sans-serif'  stroke="#222" stroke-width="0.14">Time (s)</text>
<text x="365.4" y="217.0" font-size="7.2" text-anchor="middle" font-weight="normal" font-style="normal" fill="#222" font-family='"Liberation Sans", sans-serif' transform="rotate(-90 365.4 217.0)"  stroke="#222" stroke-width="0.14">Current (μA)</text>
<polyline points="389.50,169.60 389.55,169.78 389.64,170.01 389.72,170.22 389.83,170.46 389.94,170.66 390.04,170.84 390.18,171.01 390.32,171.16 390.45,171.28 390.59,171.38 390.86,171.53 391.13,171.64 391.41,171.72 391.68,171.78 391.95,171.83 392.22,171.87 392.77,171.94 393.31,171.99 394.13,172.05 394.95,172.11 396.04,172.16 397.13,172.21 398.49,172.26 400.40,172.30 403.12,172.34 405.84,172.37 408.57,172.38 411.29,172.39 416.74,172.39 422.19,172.40 427.64,172.40 435.81,172.40 443.98,172.40 457.60,172.40 471.22,172.40 484.84,172.40 498.46,172.40 512.08,172.40 525.70,172.40" fill="none" stroke="#e25656" stroke-width="1.2" stroke-linejoin="round" stroke-linecap="round" />
<polyline points="389.50,169.60 389.55,169.86 389.64,170.21 389.72,170.51 389.83,170.87 389.94,171.16 390.04,171.42 390.18,171.68 390.32,171.89 390.45,172.07 390.59,172.22 390.86,172.45 391.13,172.61 391.41,172.73 391.68,172.82 391.95,172.90 392.22,172.96 392.77,173.06 393.31,173.14 394.13,173.24 394.95,173.33 396.04,173.42 397.13,173.49 398.49,173.56 400.40,173.63 403.12,173.70 405.84,173.73 408.57,173.75 411.29,173.77 416.74,173.78 422.19,173.78 427.64,173.78 435.81,173.78 443.98,173.78 457.60,173.78 471.22,173.78 484.84,173.78 498.46,173.78 512.08,173.78 525.70,173.78" fill="none" stroke="#b07ee0" stroke-width="1.2" stroke-linejoin="round" stroke-linecap="round" />
<polyline points="389.50,169.60 389.55,169.94 389.64,170.39 389.72,170.79 389.83,171.25 389.94,171.64 390.04,171.97 390.18,172.31 390.32,172.59 390.45,172.82 390.59,173.01 390.86,173.29 391.13,173.50 391.41,173.65 391.68,173.77 391.95,173.86 392.22,173.93 392.77,174.05 393.31,174.15 394.13,174.27 394.95,174.37 396.04,174.47 397.13,174.56 398.49,174.64 400.40,174.73 403.12,174.80 405.84,174.84 408.57,174.87 411.29,174.88 416.74,174.89 422.19,174.90 427.64,174.90 435.81,174.90 443.98,174.90 457.60,174.90 471.22,174.90 484.84,174.90 498.46,174.90 512.08,174.90 525.70,174.90" fill="none" stroke="#3574c4" stroke-width="1.2" stroke-linejoin="round" stroke-linecap="round" />
<polyline points="389.50,169.60 389.55,169.99 389.64,170.52 389.72,170.98 389.83,171.51 389.94,171.96 390.04,172.34 390.18,172.73 390.32,173.05 390.45,173.31 390.59,173.53 390.86,173.86 391.13,174.09 391.41,174.26 391.68,174.39 391.95,174.49 392.22,174.58 392.77,174.71 393.31,174.82 394.13,174.95 394.95,175.06 396.04,175.17 397.13,175.26 398.49,175.35 400.40,175.45 403.12,175.53 405.84,175.57 408.57,175.60 411.29,175.62 416.74,175.63 422.19,175.64 427.64,175.64 435.81,175.64 443.98,175.64 457.60,175.64 471.22,175.64 484.84,175.64 498.46,175.64 512.08,175.64 525.70,175.64" fill="none" stroke="#38a282" stroke-width="1.2" stroke-linejoin="round" stroke-linecap="round" />
<polyline points="389.50,169.60 389.55,175.04 389.64,182.38 389.72,188.84 389.83,196.27 389.94,202.55 390.04,207.88 390.18,213.43 390.32,217.97 390.45,221.72 390.59,224.83 390.86,229.60 391.13,233.03 391.41,235.58 391.68,237.56 391.95,239.15 392.22,240.48 392.77,242.64 393.31,244.39 394.13,246.56 394.95,248.35 396.04,250.31 397.13,251.88 398.49,253.42 400.40,254.97 403.12,256.38 405.84,257.22 408.57,257.72 411.29,258.03 416.74,258.37 422.19,258.55 427.64,258.68 435.81,258.85 443.98,259.01 457.60,259.28 471.22,259.54 484.84,259.81 498.46,260.07 512.08,260.34 525.70,260.60" fill="none" stroke="#4e4e5a" stroke-width="1.2" stroke-linejoin="round" stroke-linecap="round" />
<polyline points="389.50,169.60 389.55,175.03 389.64,182.36 389.72,188.80 389.83,196.21 389.94,202.47 390.04,207.78 390.18,213.32 390.32,217.85 390.45,221.59 390.59,224.69 390.86,229.45 391.13,232.88 391.41,235.44 391.68,237.43 391.95,239.04 392.22,240.40 392.77,242.62 393.31,244.46 394.13,246.77 394.95,248.73 396.04,250.93 397.13,252.75 398.49,254.60 400.40,256.57 403.12,258.52 405.84,259.80 408.57,260.69 411.29,261.32 416.74,262.18 422.19,262.77 427.64,263.25 435.81,263.86 443.98,264.39 457.60,265.16 471.22,265.82 484.84,266.39 498.46,266.89 512.08,267.34 525.70,267.75" fill="none" stroke="#d2a828" stroke-width="1.3" stroke-linejoin="round" stroke-linecap="round" />
<line x1="395.60" y1="194.00" x2="401.70" y2="194.00" stroke="#e25656" stroke-width="1.1" />
<text x="403.5" y="195.9" font-size="5.4" text-anchor="start" font-weight="normal" font-style="normal" fill="#333" font-family='"Liberation Sans", sans-serif'  stroke="#333" stroke-width="0.08">Gl</text>
<line x1="395.60" y1="200.75" x2="401.70" y2="200.75" stroke="#b07ee0" stroke-width="1.1" />
<text x="403.5" y="202.65" font-size="5.4" text-anchor="start" font-weight="normal" font-style="normal" fill="#333" font-family='"Liberation Sans", sans-serif'  stroke="#333" stroke-width="0.08">AA</text>
<line x1="395.60" y1="207.50" x2="401.70" y2="207.50" stroke="#38a282" stroke-width="1.1" />
<text x="403.5" y="209.4" font-size="5.4" text-anchor="start" font-weight="normal" font-style="normal" fill="#333" font-family='"Liberation Sans", sans-serif'  stroke="#333" stroke-width="0.08">UA</text>
<line x1="395.60" y1="214.25" x2="401.70" y2="214.25" stroke="#3574c4" stroke-width="1.1" />
<text x="403.5" y="216.15" font-size="5.4" text-anchor="start" font-weight="normal" font-style="normal" fill="#333" font-family='"Liberation Sans", sans-serif'  stroke="#333" stroke-width="0.08">La</text>
<line x1="395.60" y1="221.00" x2="401.70" y2="221.00" stroke="#4e4e5a" stroke-width="1.1" />
<text x="403.5" y="222.9" font-size="5.4" text-anchor="start" font-weight="normal" font-style="normal" fill="#333" font-family='"Liberation Sans", sans-serif'  stroke="#333" stroke-width="0.08">DA</text>
<line x1="395.60" y1="227.75" x2="401.70" y2="227.75" stroke="#d2a828" stroke-width="1.1" />
<text x="403.5" y="229.65" font-size="5.4" text-anchor="start" font-weight="normal" font-style="normal" fill="#333" font-family='"Liberation Sans", sans-serif'  stroke="#333" stroke-width="0.08">Mix</text>
<rect x="439.3" y="180.3" width="89.90000000000003" height="67.29999999999998" fill="#fff" stroke="#555" stroke-width="0.6" />
<defs><pattern id="hatch" width="2.2" height="2.2" patternUnits="userSpaceOnUse" patternTransform="rotate(45)"><rect width="2.2" height="2.2" fill="#fff"/><line x1="0" y1="0" x2="0" y2="2.2" stroke="#888" stroke-width="0.7"/></pattern></defs>
<line x1="439.30" y1="247.60" x2="440.30" y2="247.60" stroke="#555" stroke-width="0.5" />
<text x="437.0" y="249.2" font-size="4.4" text-anchor="end" font-weight="normal" font-style="normal" fill="#333" font-family='"Liberation Sans", sans-serif' letter-spacing="0.45"  stroke="#333" stroke-width="0.08">0.0</text>
<line x1="439.30" y1="237.65" x2="440.30" y2="237.65" stroke="#555" stroke-width="0.5" />
<text x="437.0" y="239.25" font-size="4.4" text-anchor="end" font-weight="normal" font-style="normal" fill="#333" font-family='"Liberation Sans", sans-serif' letter-spacing="0.45"  stroke="#333" stroke-width="0.08">0.5</text>
<line x1="439.30" y1="227.70" x2="440.30" y2="227.70" stroke="#555" stroke-width="0.5" />
<text x="437.0" y="229.29999999999998" font-size="4.4" text-anchor="end" font-weight="normal" font-style="normal" fill="#333" font-family='"Liberation Sans", sans-serif' letter-spacing="0.45"  stroke="#333" stroke-width="0.08">1.0</text>
<line x1="439.30" y1="217.75" x2="440.30" y2="217.75" stroke="#555" stroke-width="0.5" />
<text x="437.0" y="219.35" font-size="4.4" text-anchor="end" font-weight="normal" font-style="normal" fill="#333" font-family='"Liberation Sans", sans-serif' letter-spacing="0.45"  stroke="#333" stroke-width="0.08">1.5</text>
<line x1="439.30" y1="207.80" x2="440.30" y2="207.80" stroke="#555" stroke-width="0.5" />
<text x="437.0" y="209.4" font-size="4.4" text-anchor="end" font-weight="normal" font-style="normal" fill="#333" font-family='"Liberation Sans", sans-serif' letter-spacing="0.45"  stroke="#333" stroke-width="0.08">2.0</text>
<line x1="439.30" y1="197.85" x2="440.30" y2="197.85" stroke="#555" stroke-width="0.5" />
<text x="437.0" y="199.45" font-size="4.4" text-anchor="end" font-weight="normal" font-style="normal" fill="#333" font-family='"Liberation Sans", sans-serif' letter-spacing="0.45"  stroke="#333" stroke-width="0.08">2.5</text>
<line x1="439.30" y1="187.90" x2="440.30" y2="187.90" stroke="#555" stroke-width="0.5" />
<text x="437.0" y="189.5" font-size="4.4" text-anchor="end" font-weight="normal" font-style="normal" fill="#333" font-family='"Liberation Sans", sans-serif' letter-spacing="0.45"  stroke="#333" stroke-width="0.08">3.0</text>
<text x="427.2" y="219.5" font-size="5.0" text-anchor="middle" font-weight="normal" font-style="normal" fill="#333" font-family='"Liberation Sans", sans-serif' transform="rotate(-90 427.2 219.5)"  stroke="#333" stroke-width="0.08">ΔCurrent (μA)</text>
<rect x="441.6" y="187.303" width="9.399999999999977" height="60.297" fill="url(#hatch)" stroke="#666" stroke-width="0.5" />
<text x="446.3" y="253.6" font-size="4.9" text-anchor="middle" font-weight="normal" font-style="normal" fill="#333" font-family='"Liberation Sans", sans-serif'  stroke="#333" stroke-width="0.08">DA</text>
<rect x="457.3" y="245.212" width="9.0" height="2.3880000000000052" fill="url(#hatch)" stroke="#666" stroke-width="0.5" />
<text x="461.8" y="253.6" font-size="4.9" text-anchor="middle" font-weight="normal" font-style="normal" fill="#333" font-family='"Liberation Sans", sans-serif'  stroke="#333" stroke-width="0.08">Gl</text>
<rect x="471.0" y="242.82399999999998" width="9.600000000000023" height="4.7760000000000105" fill="url(#hatch)" stroke="#666" stroke-width="0.5" />
<text x="475.8" y="253.6" font-size="4.9" text-anchor="middle" font-weight="normal" font-style="normal" fill="#333" font-family='"Liberation Sans", sans-serif'  stroke="#333" stroke-width="0.08">La</text>
<rect x="486.5" y="242.82399999999998" width="9.5" height="4.7760000000000105" fill="url(#hatch)" stroke="#666" stroke-width="0.5" />
<text x="491.25" y="253.6" font-size="4.9" text-anchor="middle" font-weight="normal" font-style="normal" fill="#333" font-family='"Liberation Sans", sans-serif'  stroke="#333" stroke-width="0.08">UA</text>
<rect x="502.0" y="243.22199999999998" width="8.300000000000011" height="4.378000000000014" fill="url(#hatch)" stroke="#666" stroke-width="0.5" />
<text x="506.15" y="253.6" font-size="4.9" text-anchor="middle" font-weight="normal" font-style="normal" fill="#333" font-family='"Liberation Sans", sans-serif'  stroke="#333" stroke-width="0.08">AA</text>
<rect x="516.8" y="184.31799999999998" width="9.200000000000045" height="63.28200000000001" fill="url(#hatch)" stroke="#666" stroke-width="0.5" />
<text x="521.4" y="253.6" font-size="4.9" text-anchor="middle" font-weight="normal" font-style="normal" fill="#333" font-family='"Liberation Sans", sans-serif'  stroke="#333" stroke-width="0.08">Mix</text>
<rect x="388.7" y="166.5" width="145.3" height="108.69999999999999" fill="none" stroke="#555" stroke-width="0.8" /></svg>
</body></html>
